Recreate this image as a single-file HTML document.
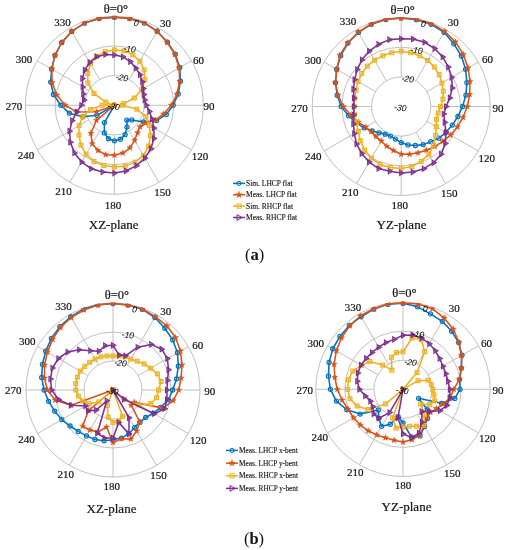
<!DOCTYPE html>
<html><head><meta charset="utf-8"><title>Radiation patterns</title>
<style>html,body{margin:0;padding:0;background:#fff}svg{display:block}text{font-family:"Liberation Serif",serif}text.rl{font-family:"Liberation Sans",sans-serif;font-style:italic}</style>
</head><body>
<svg width="507" height="550" viewBox="0 0 507 550">
<rect width="507" height="550" fill="#fff"/>
<g><clipPath id="cp1"><circle cx="114.4" cy="105.25" r="89.6"/></clipPath>
<circle cx="114.4" cy="105.25" r="29.67" fill="none" stroke="#c0c0c0" stroke-width="1"/>
<circle cx="114.4" cy="105.25" r="59.33" fill="none" stroke="#c0c0c0" stroke-width="1"/>
<circle cx="114.4" cy="105.25" r="89" fill="none" stroke="#c0c0c0" stroke-width="1"/>
<line x1="114.4" y1="75.58" x2="114.4" y2="16.25" stroke="#c0c0c0" stroke-width="1"/>
<line x1="129.23" y1="79.56" x2="158.9" y2="28.17" stroke="#c0c0c0" stroke-width="1"/>
<line x1="140.09" y1="90.42" x2="191.48" y2="60.75" stroke="#c0c0c0" stroke-width="1"/>
<line x1="144.07" y1="105.25" x2="203.4" y2="105.25" stroke="#c0c0c0" stroke-width="1"/>
<line x1="140.09" y1="120.08" x2="191.48" y2="149.75" stroke="#c0c0c0" stroke-width="1"/>
<line x1="129.23" y1="130.94" x2="158.9" y2="182.33" stroke="#c0c0c0" stroke-width="1"/>
<line x1="114.4" y1="134.92" x2="114.4" y2="194.25" stroke="#c0c0c0" stroke-width="1"/>
<line x1="99.57" y1="130.94" x2="69.9" y2="182.33" stroke="#c0c0c0" stroke-width="1"/>
<line x1="88.71" y1="120.08" x2="37.32" y2="149.75" stroke="#c0c0c0" stroke-width="1"/>
<line x1="84.73" y1="105.25" x2="25.4" y2="105.25" stroke="#c0c0c0" stroke-width="1"/>
<line x1="88.71" y1="90.42" x2="37.32" y2="60.75" stroke="#c0c0c0" stroke-width="1"/>
<line x1="99.57" y1="79.56" x2="69.9" y2="28.17" stroke="#c0c0c0" stroke-width="1"/>
<g clip-path="url(#cp1)">
<path d="M114.4 17.25L129.68 18.59L144.33 23.03L157.15 31.2L167.43 42.05L175.3 54.15L179.78 67.5L180.46 81.21L178.22 94L173.2 105.25L166.3 114.4L156.59 120.61L143.41 122L131.87 119.91L126.81 120.03L127 127.07L125.11 134.66L120.39 139.23L114.4 140.85L108.5 138.73L104.34 132.88L104.4 122.57L114.4 105.25L114.4 105.25L96.99 115.3L82.83 116.74L69.39 113.19L60.8 105.25L53.44 94.5L50.69 82.06L51.61 69L54.95 55.37L61.76 42.51L71.75 31.38L84.51 23.12L99.1 18.49Z" fill="none" stroke="#0072BD" stroke-width="1.55" stroke-linejoin="round"/>
<circle cx="114.4" cy="17.25" r="2.1" fill="#0072BD" fill-opacity="0.18" stroke="#0072BD" stroke-width="1.1"/>
<circle cx="129.68" cy="18.59" r="2.1" fill="#0072BD" fill-opacity="0.18" stroke="#0072BD" stroke-width="1.1"/>
<circle cx="144.33" cy="23.03" r="2.1" fill="#0072BD" fill-opacity="0.18" stroke="#0072BD" stroke-width="1.1"/>
<circle cx="157.15" cy="31.2" r="2.1" fill="#0072BD" fill-opacity="0.18" stroke="#0072BD" stroke-width="1.1"/>
<circle cx="167.43" cy="42.05" r="2.1" fill="#0072BD" fill-opacity="0.18" stroke="#0072BD" stroke-width="1.1"/>
<circle cx="175.3" cy="54.15" r="2.1" fill="#0072BD" fill-opacity="0.18" stroke="#0072BD" stroke-width="1.1"/>
<circle cx="179.78" cy="67.5" r="2.1" fill="#0072BD" fill-opacity="0.18" stroke="#0072BD" stroke-width="1.1"/>
<circle cx="180.46" cy="81.21" r="2.1" fill="#0072BD" fill-opacity="0.18" stroke="#0072BD" stroke-width="1.1"/>
<circle cx="178.22" cy="94" r="2.1" fill="#0072BD" fill-opacity="0.18" stroke="#0072BD" stroke-width="1.1"/>
<circle cx="173.2" cy="105.25" r="2.1" fill="#0072BD" fill-opacity="0.18" stroke="#0072BD" stroke-width="1.1"/>
<circle cx="166.3" cy="114.4" r="2.1" fill="#0072BD" fill-opacity="0.18" stroke="#0072BD" stroke-width="1.1"/>
<circle cx="156.59" cy="120.61" r="2.1" fill="#0072BD" fill-opacity="0.18" stroke="#0072BD" stroke-width="1.1"/>
<circle cx="143.41" cy="122" r="2.1" fill="#0072BD" fill-opacity="0.18" stroke="#0072BD" stroke-width="1.1"/>
<circle cx="131.87" cy="119.91" r="2.1" fill="#0072BD" fill-opacity="0.18" stroke="#0072BD" stroke-width="1.1"/>
<circle cx="126.81" cy="120.03" r="2.1" fill="#0072BD" fill-opacity="0.18" stroke="#0072BD" stroke-width="1.1"/>
<circle cx="127" cy="127.07" r="2.1" fill="#0072BD" fill-opacity="0.18" stroke="#0072BD" stroke-width="1.1"/>
<circle cx="125.11" cy="134.66" r="2.1" fill="#0072BD" fill-opacity="0.18" stroke="#0072BD" stroke-width="1.1"/>
<circle cx="120.39" cy="139.23" r="2.1" fill="#0072BD" fill-opacity="0.18" stroke="#0072BD" stroke-width="1.1"/>
<circle cx="114.4" cy="140.85" r="2.1" fill="#0072BD" fill-opacity="0.18" stroke="#0072BD" stroke-width="1.1"/>
<circle cx="108.5" cy="138.73" r="2.1" fill="#0072BD" fill-opacity="0.18" stroke="#0072BD" stroke-width="1.1"/>
<circle cx="104.34" cy="132.88" r="2.1" fill="#0072BD" fill-opacity="0.18" stroke="#0072BD" stroke-width="1.1"/>
<circle cx="104.4" cy="122.57" r="2.1" fill="#0072BD" fill-opacity="0.18" stroke="#0072BD" stroke-width="1.1"/>
<circle cx="114.4" cy="105.25" r="2.1" fill="#0072BD" fill-opacity="0.18" stroke="#0072BD" stroke-width="1.1"/>
<circle cx="114.4" cy="105.25" r="2.1" fill="#0072BD" fill-opacity="0.18" stroke="#0072BD" stroke-width="1.1"/>
<circle cx="96.99" cy="115.3" r="2.1" fill="#0072BD" fill-opacity="0.18" stroke="#0072BD" stroke-width="1.1"/>
<circle cx="82.83" cy="116.74" r="2.1" fill="#0072BD" fill-opacity="0.18" stroke="#0072BD" stroke-width="1.1"/>
<circle cx="69.39" cy="113.19" r="2.1" fill="#0072BD" fill-opacity="0.18" stroke="#0072BD" stroke-width="1.1"/>
<circle cx="60.8" cy="105.25" r="2.1" fill="#0072BD" fill-opacity="0.18" stroke="#0072BD" stroke-width="1.1"/>
<circle cx="53.44" cy="94.5" r="2.1" fill="#0072BD" fill-opacity="0.18" stroke="#0072BD" stroke-width="1.1"/>
<circle cx="50.69" cy="82.06" r="2.1" fill="#0072BD" fill-opacity="0.18" stroke="#0072BD" stroke-width="1.1"/>
<circle cx="51.61" cy="69" r="2.1" fill="#0072BD" fill-opacity="0.18" stroke="#0072BD" stroke-width="1.1"/>
<circle cx="54.95" cy="55.37" r="2.1" fill="#0072BD" fill-opacity="0.18" stroke="#0072BD" stroke-width="1.1"/>
<circle cx="61.76" cy="42.51" r="2.1" fill="#0072BD" fill-opacity="0.18" stroke="#0072BD" stroke-width="1.1"/>
<circle cx="71.75" cy="31.38" r="2.1" fill="#0072BD" fill-opacity="0.18" stroke="#0072BD" stroke-width="1.1"/>
<circle cx="84.51" cy="23.12" r="2.1" fill="#0072BD" fill-opacity="0.18" stroke="#0072BD" stroke-width="1.1"/>
<circle cx="99.1" cy="18.49" r="2.1" fill="#0072BD" fill-opacity="0.18" stroke="#0072BD" stroke-width="1.1"/>
<path d="M114.4 17.25L129.72 18.39L144.46 22.65L157.05 31.38L167.24 42.28L174.92 54.47L179.09 67.9L179.71 81.48L176.94 94.22L171.4 105.25L163.54 113.92L155.28 120.13L145.32 123.1L140.06 126.78L137.54 132.83L134.65 140.32L129.89 147.82L122.82 153.01L114.4 155.25L105.68 154.69L97.95 150.45L92.2 143.7L90.87 133.29L96.47 120.29L114.4 105.25L96.55 111.75L76.48 111.94L65.2 105.25L56.79 95.09L52.1 82.57L51.79 69.1L54.95 55.37L61.76 42.51L71.75 31.38L84.51 23.12L99.1 18.49Z" fill="none" stroke="#D95319" stroke-width="1.55" stroke-linejoin="round"/>
<polygon points="114.4,14.15 115.13,16.24 117.35,16.29 115.59,17.64 116.22,19.76 114.4,18.5 112.58,19.76 113.21,17.64 111.45,16.29 113.67,16.24" fill="#D95319" stroke="#D95319" stroke-width="0.5"/>
<polygon points="129.72,15.29 130.45,17.38 132.66,17.43 130.9,18.78 131.54,20.9 129.72,19.64 127.89,20.9 128.53,18.78 126.77,17.43 128.98,17.38" fill="#D95319" stroke="#D95319" stroke-width="0.5"/>
<polygon points="144.46,19.55 145.2,21.64 147.41,21.69 145.65,23.04 146.29,25.16 144.46,23.9 142.64,25.16 143.27,23.04 141.52,21.69 143.73,21.64" fill="#D95319" stroke="#D95319" stroke-width="0.5"/>
<polygon points="157.05,28.28 157.78,30.37 160,30.42 158.24,31.76 158.87,33.89 157.05,32.63 155.23,33.89 155.86,31.76 154.1,30.42 156.32,30.37" fill="#D95319" stroke="#D95319" stroke-width="0.5"/>
<polygon points="167.24,39.18 167.97,41.27 170.19,41.32 168.43,42.67 169.06,44.79 167.24,43.53 165.42,44.79 166.05,42.67 164.29,41.32 166.5,41.27" fill="#D95319" stroke="#D95319" stroke-width="0.5"/>
<polygon points="174.92,51.37 175.65,53.46 177.87,53.51 176.11,54.86 176.74,56.98 174.92,55.72 173.1,56.98 173.73,54.86 171.97,53.51 174.18,53.46" fill="#D95319" stroke="#D95319" stroke-width="0.5"/>
<polygon points="179.09,64.8 179.83,66.89 182.04,66.94 180.28,68.29 180.91,70.41 179.09,69.15 177.27,70.41 177.9,68.29 176.14,66.94 178.36,66.89" fill="#D95319" stroke="#D95319" stroke-width="0.5"/>
<polygon points="179.71,78.38 180.44,80.47 182.66,80.52 180.9,81.87 181.53,83.99 179.71,82.73 177.89,83.99 178.52,81.87 176.76,80.52 178.97,80.47" fill="#D95319" stroke="#D95319" stroke-width="0.5"/>
<polygon points="176.94,91.12 177.67,93.21 179.88,93.27 178.12,94.61 178.76,96.73 176.94,95.47 175.11,96.73 175.75,94.61 173.99,93.27 176.2,93.21" fill="#D95319" stroke="#D95319" stroke-width="0.5"/>
<polygon points="171.4,102.15 172.13,104.24 174.35,104.29 172.59,105.64 173.22,107.76 171.4,106.5 169.58,107.76 170.21,105.64 168.45,104.29 170.67,104.24" fill="#D95319" stroke="#D95319" stroke-width="0.5"/>
<polygon points="163.54,110.82 164.28,112.9 166.49,112.96 164.73,114.3 165.36,116.42 163.54,115.17 161.72,116.42 162.35,114.3 160.59,112.96 162.81,112.9" fill="#D95319" stroke="#D95319" stroke-width="0.5"/>
<polygon points="155.28,117.03 156.01,119.12 158.22,119.17 156.47,120.51 157.1,122.64 155.28,121.38 153.45,122.64 154.09,120.51 152.33,119.17 154.54,119.12" fill="#D95319" stroke="#D95319" stroke-width="0.5"/>
<polygon points="145.32,120 146.05,122.09 148.27,122.14 146.51,123.49 147.14,125.61 145.32,124.35 143.49,125.61 144.13,123.49 142.37,122.14 144.58,122.09" fill="#D95319" stroke="#D95319" stroke-width="0.5"/>
<polygon points="140.06,123.68 140.8,125.77 143.01,125.83 141.25,127.17 141.88,129.29 140.06,128.03 138.24,129.29 138.87,127.17 137.11,125.83 139.33,125.77" fill="#D95319" stroke="#D95319" stroke-width="0.5"/>
<polygon points="137.54,129.73 138.28,131.82 140.49,131.87 138.73,133.21 139.36,135.34 137.54,134.08 135.72,135.34 136.35,133.21 134.59,131.87 136.81,131.82" fill="#D95319" stroke="#D95319" stroke-width="0.5"/>
<polygon points="134.65,137.22 135.38,139.31 137.6,139.37 135.84,140.71 136.47,142.83 134.65,141.57 132.83,142.83 133.46,140.71 131.7,139.37 133.92,139.31" fill="#D95319" stroke="#D95319" stroke-width="0.5"/>
<polygon points="129.89,144.72 130.63,146.81 132.84,146.86 131.08,148.2 131.72,150.33 129.89,149.07 128.07,150.33 128.7,148.2 126.95,146.86 129.16,146.81" fill="#D95319" stroke="#D95319" stroke-width="0.5"/>
<polygon points="122.82,149.91 123.56,152 125.77,152.06 124.01,153.4 124.64,155.52 122.82,154.26 121,155.52 121.63,153.4 119.87,152.06 122.09,152" fill="#D95319" stroke="#D95319" stroke-width="0.5"/>
<polygon points="114.4,152.15 115.13,154.24 117.35,154.29 115.59,155.64 116.22,157.76 114.4,156.5 112.58,157.76 113.21,155.64 111.45,154.29 113.67,154.24" fill="#D95319" stroke="#D95319" stroke-width="0.5"/>
<polygon points="105.68,151.59 106.42,153.68 108.63,153.73 106.87,155.07 107.5,157.2 105.68,155.94 103.86,157.2 104.49,155.07 102.73,153.73 104.95,153.68" fill="#D95319" stroke="#D95319" stroke-width="0.5"/>
<polygon points="97.95,147.35 98.68,149.44 100.9,149.49 99.14,150.84 99.77,152.96 97.95,151.7 96.13,152.96 96.76,150.84 95,149.49 97.21,149.44" fill="#D95319" stroke="#D95319" stroke-width="0.5"/>
<polygon points="92.2,140.6 92.93,142.69 95.15,142.74 93.39,144.09 94.02,146.21 92.2,144.95 90.38,146.21 91.01,144.09 89.25,142.74 91.47,142.69" fill="#D95319" stroke="#D95319" stroke-width="0.5"/>
<polygon points="90.87,130.19 91.61,132.28 93.82,132.33 92.06,133.67 92.7,135.8 90.87,134.54 89.05,135.8 89.69,133.67 87.93,132.33 90.14,132.28" fill="#D95319" stroke="#D95319" stroke-width="0.5"/>
<polygon points="96.47,117.19 97.21,119.28 99.42,119.33 97.66,120.68 98.3,122.8 96.47,121.54 94.65,122.8 95.29,120.68 93.53,119.33 95.74,119.28" fill="#D95319" stroke="#D95319" stroke-width="0.5"/>
<polygon points="114.4,102.15 115.13,104.24 117.35,104.29 115.59,105.64 116.22,107.76 114.4,106.5 112.58,107.76 113.21,105.64 111.45,104.29 113.67,104.24" fill="#D95319" stroke="#D95319" stroke-width="0.5"/>
<polygon points="96.55,108.65 97.28,110.74 99.49,110.79 97.73,112.13 98.37,114.26 96.55,113 94.72,114.26 95.36,112.13 93.6,110.79 95.81,110.74" fill="#D95319" stroke="#D95319" stroke-width="0.5"/>
<polygon points="76.48,108.84 77.22,110.92 79.43,110.98 77.67,112.32 78.31,114.44 76.48,113.19 74.66,114.44 75.3,112.32 73.54,110.98 75.75,110.92" fill="#D95319" stroke="#D95319" stroke-width="0.5"/>
<polygon points="65.2,102.15 65.93,104.24 68.15,104.29 66.39,105.64 67.02,107.76 65.2,106.5 63.38,107.76 64.01,105.64 62.25,104.29 64.47,104.24" fill="#D95319" stroke="#D95319" stroke-width="0.5"/>
<polygon points="56.79,91.99 57.52,94.08 59.74,94.13 57.98,95.48 58.61,97.6 56.79,96.34 54.97,97.6 55.6,95.48 53.84,94.13 56.05,94.08" fill="#D95319" stroke="#D95319" stroke-width="0.5"/>
<polygon points="52.1,79.47 52.83,81.56 55.05,81.62 53.29,82.96 53.92,85.08 52.1,83.82 50.28,85.08 50.91,82.96 49.15,81.62 51.36,81.56" fill="#D95319" stroke="#D95319" stroke-width="0.5"/>
<polygon points="51.79,66 52.52,68.09 54.73,68.14 52.98,69.49 53.61,71.61 51.79,70.35 49.96,71.61 50.6,69.49 48.84,68.14 51.05,68.09" fill="#D95319" stroke="#D95319" stroke-width="0.5"/>
<polygon points="54.95,52.27 55.69,54.36 57.9,54.41 56.14,55.76 56.78,57.88 54.95,56.62 53.13,57.88 53.77,55.76 52.01,54.41 54.22,54.36" fill="#D95319" stroke="#D95319" stroke-width="0.5"/>
<polygon points="61.76,39.41 62.49,41.5 64.7,41.55 62.94,42.9 63.58,45.02 61.76,43.76 59.93,45.02 60.57,42.9 58.81,41.55 61.02,41.5" fill="#D95319" stroke="#D95319" stroke-width="0.5"/>
<polygon points="71.75,28.28 72.48,30.37 74.7,30.42 72.94,31.76 73.57,33.89 71.75,32.63 69.93,33.89 70.56,31.76 68.8,30.42 71.02,30.37" fill="#D95319" stroke="#D95319" stroke-width="0.5"/>
<polygon points="84.51,20.02 85.24,22.11 87.46,22.16 85.7,23.51 86.33,25.63 84.51,24.37 82.69,25.63 83.32,23.51 81.56,22.16 83.77,22.11" fill="#D95319" stroke="#D95319" stroke-width="0.5"/>
<polygon points="99.1,15.39 99.84,17.48 102.05,17.53 100.29,18.87 100.92,21 99.1,19.74 97.28,21 97.91,18.87 96.15,17.53 98.37,17.48" fill="#D95319" stroke="#D95319" stroke-width="0.5"/>
<path d="M114.4 49.95L123.99 50.89L132.73 54.88L139.85 61.17L144.1 69.86L144.89 79.67L142.11 89.25L134.32 98L123.66 103.62L122.4 105.25L136.76 109.19L145.79 116.67L149.39 125.45L150.48 135.53L148.66 146.08L143.4 155.48L135.09 162.1L125.13 166.11L114.4 167.05L103.77 165.52L93.95 161.44L86.1 154.27L80.91 145.16L79.01 134.95L79.07 125.65L82.73 116.78L90.37 109.49L102.1 105.25L114.4 105.25L105.85 102.14L94.05 93.5L87.82 82.95L87.72 73.46L90.4 63.68L96.61 56.39L104.95 51.68Z" fill="none" stroke="#EDB120" stroke-width="1.55" stroke-linejoin="round"/>
<rect x="112.45" y="48" width="3.9" height="3.9" fill="#EDB120" fill-opacity="0.3" stroke="#EDB120" stroke-width="1.1"/>
<rect x="122.04" y="48.94" width="3.9" height="3.9" fill="#EDB120" fill-opacity="0.3" stroke="#EDB120" stroke-width="1.1"/>
<rect x="130.78" y="52.93" width="3.9" height="3.9" fill="#EDB120" fill-opacity="0.3" stroke="#EDB120" stroke-width="1.1"/>
<rect x="137.9" y="59.22" width="3.9" height="3.9" fill="#EDB120" fill-opacity="0.3" stroke="#EDB120" stroke-width="1.1"/>
<rect x="142.15" y="67.91" width="3.9" height="3.9" fill="#EDB120" fill-opacity="0.3" stroke="#EDB120" stroke-width="1.1"/>
<rect x="142.94" y="77.72" width="3.9" height="3.9" fill="#EDB120" fill-opacity="0.3" stroke="#EDB120" stroke-width="1.1"/>
<rect x="140.16" y="87.3" width="3.9" height="3.9" fill="#EDB120" fill-opacity="0.3" stroke="#EDB120" stroke-width="1.1"/>
<rect x="132.37" y="96.05" width="3.9" height="3.9" fill="#EDB120" fill-opacity="0.3" stroke="#EDB120" stroke-width="1.1"/>
<rect x="121.71" y="101.67" width="3.9" height="3.9" fill="#EDB120" fill-opacity="0.3" stroke="#EDB120" stroke-width="1.1"/>
<rect x="120.45" y="103.3" width="3.9" height="3.9" fill="#EDB120" fill-opacity="0.3" stroke="#EDB120" stroke-width="1.1"/>
<rect x="134.81" y="107.24" width="3.9" height="3.9" fill="#EDB120" fill-opacity="0.3" stroke="#EDB120" stroke-width="1.1"/>
<rect x="143.84" y="114.72" width="3.9" height="3.9" fill="#EDB120" fill-opacity="0.3" stroke="#EDB120" stroke-width="1.1"/>
<rect x="147.44" y="123.5" width="3.9" height="3.9" fill="#EDB120" fill-opacity="0.3" stroke="#EDB120" stroke-width="1.1"/>
<rect x="148.53" y="133.58" width="3.9" height="3.9" fill="#EDB120" fill-opacity="0.3" stroke="#EDB120" stroke-width="1.1"/>
<rect x="146.71" y="144.13" width="3.9" height="3.9" fill="#EDB120" fill-opacity="0.3" stroke="#EDB120" stroke-width="1.1"/>
<rect x="141.45" y="153.53" width="3.9" height="3.9" fill="#EDB120" fill-opacity="0.3" stroke="#EDB120" stroke-width="1.1"/>
<rect x="133.14" y="160.15" width="3.9" height="3.9" fill="#EDB120" fill-opacity="0.3" stroke="#EDB120" stroke-width="1.1"/>
<rect x="123.18" y="164.16" width="3.9" height="3.9" fill="#EDB120" fill-opacity="0.3" stroke="#EDB120" stroke-width="1.1"/>
<rect x="112.45" y="165.1" width="3.9" height="3.9" fill="#EDB120" fill-opacity="0.3" stroke="#EDB120" stroke-width="1.1"/>
<rect x="101.82" y="163.57" width="3.9" height="3.9" fill="#EDB120" fill-opacity="0.3" stroke="#EDB120" stroke-width="1.1"/>
<rect x="92" y="159.49" width="3.9" height="3.9" fill="#EDB120" fill-opacity="0.3" stroke="#EDB120" stroke-width="1.1"/>
<rect x="84.15" y="152.32" width="3.9" height="3.9" fill="#EDB120" fill-opacity="0.3" stroke="#EDB120" stroke-width="1.1"/>
<rect x="78.96" y="143.21" width="3.9" height="3.9" fill="#EDB120" fill-opacity="0.3" stroke="#EDB120" stroke-width="1.1"/>
<rect x="77.06" y="133" width="3.9" height="3.9" fill="#EDB120" fill-opacity="0.3" stroke="#EDB120" stroke-width="1.1"/>
<rect x="77.12" y="123.7" width="3.9" height="3.9" fill="#EDB120" fill-opacity="0.3" stroke="#EDB120" stroke-width="1.1"/>
<rect x="80.78" y="114.83" width="3.9" height="3.9" fill="#EDB120" fill-opacity="0.3" stroke="#EDB120" stroke-width="1.1"/>
<rect x="88.42" y="107.54" width="3.9" height="3.9" fill="#EDB120" fill-opacity="0.3" stroke="#EDB120" stroke-width="1.1"/>
<rect x="100.15" y="103.3" width="3.9" height="3.9" fill="#EDB120" fill-opacity="0.3" stroke="#EDB120" stroke-width="1.1"/>
<rect x="112.45" y="103.3" width="3.9" height="3.9" fill="#EDB120" fill-opacity="0.3" stroke="#EDB120" stroke-width="1.1"/>
<rect x="103.9" y="100.19" width="3.9" height="3.9" fill="#EDB120" fill-opacity="0.3" stroke="#EDB120" stroke-width="1.1"/>
<rect x="92.1" y="91.55" width="3.9" height="3.9" fill="#EDB120" fill-opacity="0.3" stroke="#EDB120" stroke-width="1.1"/>
<rect x="85.87" y="81" width="3.9" height="3.9" fill="#EDB120" fill-opacity="0.3" stroke="#EDB120" stroke-width="1.1"/>
<rect x="85.77" y="71.51" width="3.9" height="3.9" fill="#EDB120" fill-opacity="0.3" stroke="#EDB120" stroke-width="1.1"/>
<rect x="88.45" y="61.73" width="3.9" height="3.9" fill="#EDB120" fill-opacity="0.3" stroke="#EDB120" stroke-width="1.1"/>
<rect x="94.66" y="54.44" width="3.9" height="3.9" fill="#EDB120" fill-opacity="0.3" stroke="#EDB120" stroke-width="1.1"/>
<rect x="103" y="49.73" width="3.9" height="3.9" fill="#EDB120" fill-opacity="0.3" stroke="#EDB120" stroke-width="1.1"/>
<path d="M114.4 54.95L122.94 56.8L130.3 61.55L135.8 68.18L140.05 74.68L142.28 81.85L143.33 88.55L143.81 94.54L144.73 99.9L146.4 105.25L149.36 111.41L152.18 119L153.89 128.05L154 138.48L150.85 148.68L144.95 158.16L136.39 165.67L125.98 170.94L114.4 173.05L102.63 172.02L91.28 168.77L81.65 161.97L74.42 152.9L70.35 142.21L69.54 131.15L72.21 120.61L76.78 111.88L81.4 105.25L84.07 99.9L83.3 93.93L82.7 86.95L82.38 78.38L84.83 70.01L89.65 62.38L96.72 56.67L105.46 54.53Z" fill="none" stroke="#7E2F8E" stroke-width="1.55" stroke-linejoin="round"/>
<path d="M112.9 52.35L117.1 54.95L112.9 57.55Z" fill="#7E2F8E" fill-opacity="0.4" stroke="#7E2F8E" stroke-width="1.1" stroke-linejoin="miter"/>
<path d="M121.44 54.2L125.64 56.8L121.44 59.4Z" fill="#7E2F8E" fill-opacity="0.4" stroke="#7E2F8E" stroke-width="1.1" stroke-linejoin="miter"/>
<path d="M128.8 58.95L133 61.55L128.8 64.15Z" fill="#7E2F8E" fill-opacity="0.4" stroke="#7E2F8E" stroke-width="1.1" stroke-linejoin="miter"/>
<path d="M134.3 65.58L138.5 68.18L134.3 70.78Z" fill="#7E2F8E" fill-opacity="0.4" stroke="#7E2F8E" stroke-width="1.1" stroke-linejoin="miter"/>
<path d="M138.55 72.08L142.75 74.68L138.55 77.28Z" fill="#7E2F8E" fill-opacity="0.4" stroke="#7E2F8E" stroke-width="1.1" stroke-linejoin="miter"/>
<path d="M140.78 79.25L144.98 81.85L140.78 84.45Z" fill="#7E2F8E" fill-opacity="0.4" stroke="#7E2F8E" stroke-width="1.1" stroke-linejoin="miter"/>
<path d="M141.83 85.95L146.03 88.55L141.83 91.15Z" fill="#7E2F8E" fill-opacity="0.4" stroke="#7E2F8E" stroke-width="1.1" stroke-linejoin="miter"/>
<path d="M142.31 91.94L146.51 94.54L142.31 97.14Z" fill="#7E2F8E" fill-opacity="0.4" stroke="#7E2F8E" stroke-width="1.1" stroke-linejoin="miter"/>
<path d="M143.23 97.3L147.43 99.9L143.23 102.5Z" fill="#7E2F8E" fill-opacity="0.4" stroke="#7E2F8E" stroke-width="1.1" stroke-linejoin="miter"/>
<path d="M144.9 102.65L149.1 105.25L144.9 107.85Z" fill="#7E2F8E" fill-opacity="0.4" stroke="#7E2F8E" stroke-width="1.1" stroke-linejoin="miter"/>
<path d="M147.86 108.81L152.06 111.41L147.86 114.01Z" fill="#7E2F8E" fill-opacity="0.4" stroke="#7E2F8E" stroke-width="1.1" stroke-linejoin="miter"/>
<path d="M150.68 116.4L154.88 119L150.68 121.6Z" fill="#7E2F8E" fill-opacity="0.4" stroke="#7E2F8E" stroke-width="1.1" stroke-linejoin="miter"/>
<path d="M152.39 125.45L156.59 128.05L152.39 130.65Z" fill="#7E2F8E" fill-opacity="0.4" stroke="#7E2F8E" stroke-width="1.1" stroke-linejoin="miter"/>
<path d="M152.5 135.88L156.7 138.48L152.5 141.08Z" fill="#7E2F8E" fill-opacity="0.4" stroke="#7E2F8E" stroke-width="1.1" stroke-linejoin="miter"/>
<path d="M149.35 146.08L153.55 148.68L149.35 151.28Z" fill="#7E2F8E" fill-opacity="0.4" stroke="#7E2F8E" stroke-width="1.1" stroke-linejoin="miter"/>
<path d="M143.45 155.56L147.65 158.16L143.45 160.76Z" fill="#7E2F8E" fill-opacity="0.4" stroke="#7E2F8E" stroke-width="1.1" stroke-linejoin="miter"/>
<path d="M134.89 163.07L139.09 165.67L134.89 168.27Z" fill="#7E2F8E" fill-opacity="0.4" stroke="#7E2F8E" stroke-width="1.1" stroke-linejoin="miter"/>
<path d="M124.48 168.34L128.68 170.94L124.48 173.54Z" fill="#7E2F8E" fill-opacity="0.4" stroke="#7E2F8E" stroke-width="1.1" stroke-linejoin="miter"/>
<path d="M112.9 170.45L117.1 173.05L112.9 175.65Z" fill="#7E2F8E" fill-opacity="0.4" stroke="#7E2F8E" stroke-width="1.1" stroke-linejoin="miter"/>
<path d="M101.13 169.42L105.33 172.02L101.13 174.62Z" fill="#7E2F8E" fill-opacity="0.4" stroke="#7E2F8E" stroke-width="1.1" stroke-linejoin="miter"/>
<path d="M89.78 166.17L93.98 168.77L89.78 171.37Z" fill="#7E2F8E" fill-opacity="0.4" stroke="#7E2F8E" stroke-width="1.1" stroke-linejoin="miter"/>
<path d="M80.15 159.37L84.35 161.97L80.15 164.57Z" fill="#7E2F8E" fill-opacity="0.4" stroke="#7E2F8E" stroke-width="1.1" stroke-linejoin="miter"/>
<path d="M72.92 150.3L77.12 152.9L72.92 155.5Z" fill="#7E2F8E" fill-opacity="0.4" stroke="#7E2F8E" stroke-width="1.1" stroke-linejoin="miter"/>
<path d="M68.85 139.61L73.05 142.21L68.85 144.81Z" fill="#7E2F8E" fill-opacity="0.4" stroke="#7E2F8E" stroke-width="1.1" stroke-linejoin="miter"/>
<path d="M68.04 128.55L72.24 131.15L68.04 133.75Z" fill="#7E2F8E" fill-opacity="0.4" stroke="#7E2F8E" stroke-width="1.1" stroke-linejoin="miter"/>
<path d="M70.71 118.01L74.91 120.61L70.71 123.21Z" fill="#7E2F8E" fill-opacity="0.4" stroke="#7E2F8E" stroke-width="1.1" stroke-linejoin="miter"/>
<path d="M75.28 109.28L79.48 111.88L75.28 114.48Z" fill="#7E2F8E" fill-opacity="0.4" stroke="#7E2F8E" stroke-width="1.1" stroke-linejoin="miter"/>
<path d="M79.9 102.65L84.1 105.25L79.9 107.85Z" fill="#7E2F8E" fill-opacity="0.4" stroke="#7E2F8E" stroke-width="1.1" stroke-linejoin="miter"/>
<path d="M82.57 97.3L86.77 99.9L82.57 102.5Z" fill="#7E2F8E" fill-opacity="0.4" stroke="#7E2F8E" stroke-width="1.1" stroke-linejoin="miter"/>
<path d="M81.8 91.33L86 93.93L81.8 96.53Z" fill="#7E2F8E" fill-opacity="0.4" stroke="#7E2F8E" stroke-width="1.1" stroke-linejoin="miter"/>
<path d="M81.2 84.35L85.4 86.95L81.2 89.55Z" fill="#7E2F8E" fill-opacity="0.4" stroke="#7E2F8E" stroke-width="1.1" stroke-linejoin="miter"/>
<path d="M80.88 75.78L85.08 78.38L80.88 80.98Z" fill="#7E2F8E" fill-opacity="0.4" stroke="#7E2F8E" stroke-width="1.1" stroke-linejoin="miter"/>
<path d="M83.33 67.41L87.53 70.01L83.33 72.61Z" fill="#7E2F8E" fill-opacity="0.4" stroke="#7E2F8E" stroke-width="1.1" stroke-linejoin="miter"/>
<path d="M88.15 59.78L92.35 62.38L88.15 64.98Z" fill="#7E2F8E" fill-opacity="0.4" stroke="#7E2F8E" stroke-width="1.1" stroke-linejoin="miter"/>
<path d="M95.22 54.07L99.42 56.67L95.22 59.27Z" fill="#7E2F8E" fill-opacity="0.4" stroke="#7E2F8E" stroke-width="1.1" stroke-linejoin="miter"/>
<path d="M103.96 51.93L108.16 54.53L103.96 57.13Z" fill="#7E2F8E" fill-opacity="0.4" stroke="#7E2F8E" stroke-width="1.1" stroke-linejoin="miter"/>
</g></g>
<g fill="#111" stroke="#111" stroke-width="0.2"><text x="115.9" y="12.75" font-size="12.5" text-anchor="middle" >θ=0°</text>
<text x="165.4" y="27.35" font-size="11" text-anchor="middle" >30</text>
<text x="198.4" y="63.85" font-size="11" text-anchor="middle" >60</text>
<text x="209" y="110.35" font-size="11" text-anchor="middle" >90</text>
<text x="200" y="160.25" font-size="11" text-anchor="middle" >120</text>
<text x="162.4" y="196.25" font-size="11" text-anchor="middle" >150</text>
<text x="113" y="208.75" font-size="11" text-anchor="middle" >180</text>
<text x="63.4" y="194.75" font-size="11" text-anchor="middle" >210</text>
<text x="25.9" y="158.75" font-size="11" text-anchor="middle" >240</text>
<text x="14" y="110.35" font-size="11" text-anchor="middle" >270</text>
<text x="24" y="62.85" font-size="11" text-anchor="middle" >300</text>
<text x="62.4" y="26.35" font-size="11" text-anchor="middle" >330</text>
<text x="136.4" y="25.85" font-size="8.6" text-anchor="middle" class="rl" fill="#000" stroke="none" transform="rotate(8 136.4 22.95)">0</text>
<text x="129.6" y="51.95" font-size="8.6" text-anchor="middle" class="rl" fill="#000" stroke="none" transform="rotate(8 129.6 49.05)">-10</text>
<text x="122" y="80.55" font-size="8.6" text-anchor="middle" class="rl" fill="#000" stroke="none" transform="rotate(8 122 77.65)">-20</text>
<text x="113.5" y="109.45" font-size="8.6" text-anchor="middle" class="rl" fill="#000" stroke="none" transform="rotate(8 113.5 106.55)">-30</text></g>
<g><clipPath id="cp2"><circle cx="401.2" cy="106.5" r="89.6"/></clipPath>
<circle cx="401.2" cy="106.5" r="29.67" fill="none" stroke="#c0c0c0" stroke-width="1"/>
<circle cx="401.2" cy="106.5" r="59.33" fill="none" stroke="#c0c0c0" stroke-width="1"/>
<circle cx="401.2" cy="106.5" r="89" fill="none" stroke="#c0c0c0" stroke-width="1"/>
<line x1="401.2" y1="76.83" x2="401.2" y2="17.5" stroke="#c0c0c0" stroke-width="1"/>
<line x1="416.03" y1="80.81" x2="445.7" y2="29.42" stroke="#c0c0c0" stroke-width="1"/>
<line x1="426.89" y1="91.67" x2="478.28" y2="62" stroke="#c0c0c0" stroke-width="1"/>
<line x1="430.87" y1="106.5" x2="490.2" y2="106.5" stroke="#c0c0c0" stroke-width="1"/>
<line x1="426.89" y1="121.33" x2="478.28" y2="151" stroke="#c0c0c0" stroke-width="1"/>
<line x1="416.03" y1="132.19" x2="445.7" y2="183.58" stroke="#c0c0c0" stroke-width="1"/>
<line x1="401.2" y1="136.17" x2="401.2" y2="195.5" stroke="#c0c0c0" stroke-width="1"/>
<line x1="386.37" y1="132.19" x2="356.7" y2="183.58" stroke="#c0c0c0" stroke-width="1"/>
<line x1="375.51" y1="121.33" x2="324.12" y2="151" stroke="#c0c0c0" stroke-width="1"/>
<line x1="371.53" y1="106.5" x2="312.2" y2="106.5" stroke="#c0c0c0" stroke-width="1"/>
<line x1="375.51" y1="91.67" x2="324.12" y2="62" stroke="#c0c0c0" stroke-width="1"/>
<line x1="386.37" y1="80.81" x2="356.7" y2="29.42" stroke="#c0c0c0" stroke-width="1"/>
<g clip-path="url(#cp2)">
<path d="M401.2 18.1L416.52 19.64L431.13 24.28L444.05 32.28L453.78 43.84L461.41 55.98L465.55 69.35L466.88 82.59L465.9 95.09L462.6 106.5L457.92 116.5L452.32 125.11L445.97 132.35L438.89 138.13L430.7 141.66L423.2 144.61L415.39 145.5L407.97 144.91L401.2 142.6L395.45 139.1L390.43 136.1L385.2 134.21L379.15 132.78L372.09 130.93L364.22 127.85L356.09 122.92L348.61 115.77L341.2 106.5L337.19 95.21L335.42 82.56L336.68 69.25L340.68 55.72L347.98 43.07L358.45 32.45L371.27 24.28L385.87 19.54Z" fill="none" stroke="#0072BD" stroke-width="1.55" stroke-linejoin="round"/>
<circle cx="401.2" cy="18.1" r="2.1" fill="#0072BD" fill-opacity="0.18" stroke="#0072BD" stroke-width="1.1"/>
<circle cx="416.52" cy="19.64" r="2.1" fill="#0072BD" fill-opacity="0.18" stroke="#0072BD" stroke-width="1.1"/>
<circle cx="431.13" cy="24.28" r="2.1" fill="#0072BD" fill-opacity="0.18" stroke="#0072BD" stroke-width="1.1"/>
<circle cx="444.05" cy="32.28" r="2.1" fill="#0072BD" fill-opacity="0.18" stroke="#0072BD" stroke-width="1.1"/>
<circle cx="453.78" cy="43.84" r="2.1" fill="#0072BD" fill-opacity="0.18" stroke="#0072BD" stroke-width="1.1"/>
<circle cx="461.41" cy="55.98" r="2.1" fill="#0072BD" fill-opacity="0.18" stroke="#0072BD" stroke-width="1.1"/>
<circle cx="465.55" cy="69.35" r="2.1" fill="#0072BD" fill-opacity="0.18" stroke="#0072BD" stroke-width="1.1"/>
<circle cx="466.88" cy="82.59" r="2.1" fill="#0072BD" fill-opacity="0.18" stroke="#0072BD" stroke-width="1.1"/>
<circle cx="465.9" cy="95.09" r="2.1" fill="#0072BD" fill-opacity="0.18" stroke="#0072BD" stroke-width="1.1"/>
<circle cx="462.6" cy="106.5" r="2.1" fill="#0072BD" fill-opacity="0.18" stroke="#0072BD" stroke-width="1.1"/>
<circle cx="457.92" cy="116.5" r="2.1" fill="#0072BD" fill-opacity="0.18" stroke="#0072BD" stroke-width="1.1"/>
<circle cx="452.32" cy="125.11" r="2.1" fill="#0072BD" fill-opacity="0.18" stroke="#0072BD" stroke-width="1.1"/>
<circle cx="445.97" cy="132.35" r="2.1" fill="#0072BD" fill-opacity="0.18" stroke="#0072BD" stroke-width="1.1"/>
<circle cx="438.89" cy="138.13" r="2.1" fill="#0072BD" fill-opacity="0.18" stroke="#0072BD" stroke-width="1.1"/>
<circle cx="430.7" cy="141.66" r="2.1" fill="#0072BD" fill-opacity="0.18" stroke="#0072BD" stroke-width="1.1"/>
<circle cx="423.2" cy="144.61" r="2.1" fill="#0072BD" fill-opacity="0.18" stroke="#0072BD" stroke-width="1.1"/>
<circle cx="415.39" cy="145.5" r="2.1" fill="#0072BD" fill-opacity="0.18" stroke="#0072BD" stroke-width="1.1"/>
<circle cx="407.97" cy="144.91" r="2.1" fill="#0072BD" fill-opacity="0.18" stroke="#0072BD" stroke-width="1.1"/>
<circle cx="401.2" cy="142.6" r="2.1" fill="#0072BD" fill-opacity="0.18" stroke="#0072BD" stroke-width="1.1"/>
<circle cx="395.45" cy="139.1" r="2.1" fill="#0072BD" fill-opacity="0.18" stroke="#0072BD" stroke-width="1.1"/>
<circle cx="390.43" cy="136.1" r="2.1" fill="#0072BD" fill-opacity="0.18" stroke="#0072BD" stroke-width="1.1"/>
<circle cx="385.2" cy="134.21" r="2.1" fill="#0072BD" fill-opacity="0.18" stroke="#0072BD" stroke-width="1.1"/>
<circle cx="379.15" cy="132.78" r="2.1" fill="#0072BD" fill-opacity="0.18" stroke="#0072BD" stroke-width="1.1"/>
<circle cx="372.09" cy="130.93" r="2.1" fill="#0072BD" fill-opacity="0.18" stroke="#0072BD" stroke-width="1.1"/>
<circle cx="364.22" cy="127.85" r="2.1" fill="#0072BD" fill-opacity="0.18" stroke="#0072BD" stroke-width="1.1"/>
<circle cx="356.09" cy="122.92" r="2.1" fill="#0072BD" fill-opacity="0.18" stroke="#0072BD" stroke-width="1.1"/>
<circle cx="348.61" cy="115.77" r="2.1" fill="#0072BD" fill-opacity="0.18" stroke="#0072BD" stroke-width="1.1"/>
<circle cx="341.2" cy="106.5" r="2.1" fill="#0072BD" fill-opacity="0.18" stroke="#0072BD" stroke-width="1.1"/>
<circle cx="337.19" cy="95.21" r="2.1" fill="#0072BD" fill-opacity="0.18" stroke="#0072BD" stroke-width="1.1"/>
<circle cx="335.42" cy="82.56" r="2.1" fill="#0072BD" fill-opacity="0.18" stroke="#0072BD" stroke-width="1.1"/>
<circle cx="336.68" cy="69.25" r="2.1" fill="#0072BD" fill-opacity="0.18" stroke="#0072BD" stroke-width="1.1"/>
<circle cx="340.68" cy="55.72" r="2.1" fill="#0072BD" fill-opacity="0.18" stroke="#0072BD" stroke-width="1.1"/>
<circle cx="347.98" cy="43.07" r="2.1" fill="#0072BD" fill-opacity="0.18" stroke="#0072BD" stroke-width="1.1"/>
<circle cx="358.45" cy="32.45" r="2.1" fill="#0072BD" fill-opacity="0.18" stroke="#0072BD" stroke-width="1.1"/>
<circle cx="371.27" cy="24.28" r="2.1" fill="#0072BD" fill-opacity="0.18" stroke="#0072BD" stroke-width="1.1"/>
<circle cx="385.87" cy="19.54" r="2.1" fill="#0072BD" fill-opacity="0.18" stroke="#0072BD" stroke-width="1.1"/>
<path d="M401.2 17.9L416.57 19.34L431.43 23.43L444.55 31.42L455.45 41.85L463.33 54.37L468.06 67.9L469.99 81.46L469.64 94.43L467.3 106.5L463.05 117.41L457.39 126.95L450.56 135L442.72 141.34L434.82 146.56L426.5 150.32L418.06 152.83L409.62 154.26L401.2 154.2L393.44 150.52L386.73 146.25L381.25 141.05L375.94 136.61L371.25 131.63L365.69 127L358.35 122.1L350.88 115.37L343.4 106.5L338.07 95.37L335.42 82.56L336.77 69.3L339.92 55.08L347.66 42.69L358.3 32.2L371.17 23.99L385.83 19.34Z" fill="none" stroke="#D95319" stroke-width="1.55" stroke-linejoin="round"/>
<polygon points="401.2,14.8 401.93,16.89 404.15,16.94 402.39,18.29 403.02,20.41 401.2,19.15 399.38,20.41 400.01,18.29 398.25,16.94 400.47,16.89" fill="#D95319" stroke="#D95319" stroke-width="0.5"/>
<polygon points="416.57,16.24 417.3,18.33 419.52,18.39 417.76,19.73 418.39,21.85 416.57,20.59 414.75,21.85 415.38,19.73 413.62,18.39 415.83,18.33" fill="#D95319" stroke="#D95319" stroke-width="0.5"/>
<polygon points="431.43,20.33 432.17,22.42 434.38,22.47 432.62,23.82 433.26,25.94 431.43,24.68 429.61,25.94 430.25,23.82 428.49,22.47 430.7,22.42" fill="#D95319" stroke="#D95319" stroke-width="0.5"/>
<polygon points="444.55,28.32 445.28,30.4 447.5,30.46 445.74,31.8 446.37,33.92 444.55,32.67 442.73,33.92 443.36,31.8 441.6,30.46 443.82,30.4" fill="#D95319" stroke="#D95319" stroke-width="0.5"/>
<polygon points="455.45,38.75 456.19,40.83 458.4,40.89 456.64,42.23 457.27,44.35 455.45,43.1 453.63,44.35 454.26,42.23 452.5,40.89 454.72,40.83" fill="#D95319" stroke="#D95319" stroke-width="0.5"/>
<polygon points="463.33,51.27 464.06,53.36 466.27,53.41 464.52,54.76 465.15,56.88 463.33,55.62 461.5,56.88 462.14,54.76 460.38,53.41 462.59,53.36" fill="#D95319" stroke="#D95319" stroke-width="0.5"/>
<polygon points="468.06,64.8 468.79,66.89 471.01,66.94 469.25,68.29 469.88,70.41 468.06,69.15 466.24,70.41 466.87,68.29 465.11,66.94 467.32,66.89" fill="#D95319" stroke="#D95319" stroke-width="0.5"/>
<polygon points="469.99,78.36 470.72,80.45 472.93,80.51 471.17,81.85 471.81,83.97 469.99,82.71 468.16,83.97 468.8,81.85 467.04,80.51 469.25,80.45" fill="#D95319" stroke="#D95319" stroke-width="0.5"/>
<polygon points="469.64,91.33 470.38,93.42 472.59,93.47 470.83,94.82 471.47,96.94 469.64,95.68 467.82,96.94 468.46,94.82 466.7,93.47 468.91,93.42" fill="#D95319" stroke="#D95319" stroke-width="0.5"/>
<polygon points="467.3,103.4 468.03,105.49 470.25,105.54 468.49,106.89 469.12,109.01 467.3,107.75 465.48,109.01 466.11,106.89 464.35,105.54 466.57,105.49" fill="#D95319" stroke="#D95319" stroke-width="0.5"/>
<polygon points="463.05,114.31 463.78,116.39 465.99,116.45 464.23,117.79 464.87,119.91 463.05,118.66 461.22,119.91 461.86,117.79 460.1,116.45 462.31,116.39" fill="#D95319" stroke="#D95319" stroke-width="0.5"/>
<polygon points="457.39,123.85 458.13,125.94 460.34,125.99 458.58,127.34 459.22,129.46 457.39,128.2 455.57,129.46 456.2,127.34 454.45,125.99 456.66,125.94" fill="#D95319" stroke="#D95319" stroke-width="0.5"/>
<polygon points="450.56,131.9 451.3,133.99 453.51,134.04 451.75,135.39 452.39,137.51 450.56,136.25 448.74,137.51 449.37,135.39 447.62,134.04 449.83,133.99" fill="#D95319" stroke="#D95319" stroke-width="0.5"/>
<polygon points="442.72,138.24 443.45,140.33 445.67,140.38 443.91,141.73 444.54,143.85 442.72,142.59 440.9,143.85 441.53,141.73 439.77,140.38 441.98,140.33" fill="#D95319" stroke="#D95319" stroke-width="0.5"/>
<polygon points="434.82,143.46 435.55,145.55 437.77,145.61 436.01,146.95 436.64,149.07 434.82,147.81 433,149.07 433.63,146.95 431.87,145.61 434.08,145.55" fill="#D95319" stroke="#D95319" stroke-width="0.5"/>
<polygon points="426.5,147.22 427.23,149.31 429.45,149.36 427.69,150.71 428.32,152.83 426.5,151.57 424.68,152.83 425.31,150.71 423.55,149.36 425.77,149.31" fill="#D95319" stroke="#D95319" stroke-width="0.5"/>
<polygon points="418.06,149.73 418.8,151.82 421.01,151.87 419.25,153.21 419.88,155.33 418.06,154.08 416.24,155.33 416.87,153.21 415.11,151.87 417.33,151.82" fill="#D95319" stroke="#D95319" stroke-width="0.5"/>
<polygon points="409.62,151.16 410.36,153.25 412.57,153.31 410.81,154.65 411.44,156.77 409.62,155.51 407.8,156.77 408.43,154.65 406.67,153.31 408.89,153.25" fill="#D95319" stroke="#D95319" stroke-width="0.5"/>
<polygon points="401.2,151.1 401.93,153.19 404.15,153.24 402.39,154.59 403.02,156.71 401.2,155.45 399.38,156.71 400.01,154.59 398.25,153.24 400.47,153.19" fill="#D95319" stroke="#D95319" stroke-width="0.5"/>
<polygon points="393.44,147.42 394.17,149.51 396.39,149.56 394.63,150.91 395.26,153.03 393.44,151.77 391.62,153.03 392.25,150.91 390.49,149.56 392.7,149.51" fill="#D95319" stroke="#D95319" stroke-width="0.5"/>
<polygon points="386.73,143.15 387.47,145.24 389.68,145.29 387.92,146.64 388.55,148.76 386.73,147.5 384.91,148.76 385.54,146.64 383.78,145.29 386,145.24" fill="#D95319" stroke="#D95319" stroke-width="0.5"/>
<polygon points="381.25,137.95 381.98,140.04 384.2,140.1 382.44,141.44 383.07,143.56 381.25,142.3 379.43,143.56 380.06,141.44 378.3,140.1 380.52,140.04" fill="#D95319" stroke="#D95319" stroke-width="0.5"/>
<polygon points="375.94,133.51 376.67,135.59 378.89,135.65 377.13,136.99 377.76,139.11 375.94,137.86 374.12,139.11 374.75,136.99 372.99,135.65 375.2,135.59" fill="#D95319" stroke="#D95319" stroke-width="0.5"/>
<polygon points="371.25,128.53 371.98,130.62 374.2,130.68 372.44,132.02 373.07,134.14 371.25,132.88 369.43,134.14 370.06,132.02 368.3,130.68 370.51,130.62" fill="#D95319" stroke="#D95319" stroke-width="0.5"/>
<polygon points="365.69,123.9 366.43,125.99 368.64,126.04 366.88,127.39 367.52,129.51 365.69,128.25 363.87,129.51 364.5,127.39 362.74,126.04 364.96,125.99" fill="#D95319" stroke="#D95319" stroke-width="0.5"/>
<polygon points="358.35,119 359.08,121.08 361.3,121.14 359.54,122.48 360.17,124.6 358.35,123.35 356.53,124.6 357.16,122.48 355.4,121.14 357.62,121.08" fill="#D95319" stroke="#D95319" stroke-width="0.5"/>
<polygon points="350.88,112.27 351.61,114.36 353.82,114.42 352.07,115.76 352.7,117.88 350.88,116.62 349.05,117.88 349.69,115.76 347.93,114.42 350.14,114.36" fill="#D95319" stroke="#D95319" stroke-width="0.5"/>
<polygon points="343.4,103.4 344.13,105.49 346.35,105.54 344.59,106.89 345.22,109.01 343.4,107.75 341.58,109.01 342.21,106.89 340.45,105.54 342.67,105.49" fill="#D95319" stroke="#D95319" stroke-width="0.5"/>
<polygon points="338.07,92.27 338.81,94.36 341.02,94.41 339.26,95.76 339.9,97.88 338.07,96.62 336.25,97.88 336.89,95.76 335.13,94.41 337.34,94.36" fill="#D95319" stroke="#D95319" stroke-width="0.5"/>
<polygon points="335.42,79.46 336.16,81.55 338.37,81.6 336.61,82.94 337.24,85.07 335.42,83.81 333.6,85.07 334.23,82.94 332.47,81.6 334.69,81.55" fill="#D95319" stroke="#D95319" stroke-width="0.5"/>
<polygon points="336.77,66.2 337.5,68.29 339.72,68.34 337.96,69.69 338.59,71.81 336.77,70.55 334.95,71.81 335.58,69.69 333.82,68.34 336.03,68.29" fill="#D95319" stroke="#D95319" stroke-width="0.5"/>
<polygon points="339.92,51.98 340.65,54.07 342.86,54.12 341.11,55.46 341.74,57.58 339.92,56.33 338.09,57.58 338.73,55.46 336.97,54.12 339.18,54.07" fill="#D95319" stroke="#D95319" stroke-width="0.5"/>
<polygon points="347.66,39.59 348.39,41.68 350.6,41.73 348.84,43.07 349.48,45.2 347.66,43.94 345.83,45.2 346.47,43.07 344.71,41.73 346.92,41.68" fill="#D95319" stroke="#D95319" stroke-width="0.5"/>
<polygon points="358.3,29.1 359.03,31.18 361.25,31.24 359.49,32.58 360.12,34.7 358.3,33.45 356.48,34.7 357.11,32.58 355.35,31.24 357.57,31.18" fill="#D95319" stroke="#D95319" stroke-width="0.5"/>
<polygon points="371.17,20.89 371.91,22.98 374.12,23.04 372.36,24.38 372.99,26.5 371.17,25.24 369.35,26.5 369.98,24.38 368.22,23.04 370.44,22.98" fill="#D95319" stroke="#D95319" stroke-width="0.5"/>
<polygon points="385.83,16.24 386.57,18.33 388.78,18.39 387.02,19.73 387.65,21.85 385.83,20.59 384.01,21.85 384.64,19.73 382.88,18.39 385.1,18.33" fill="#D95319" stroke="#D95319" stroke-width="0.5"/>
<path d="M401.2 51.2L410.68 52.73L419.7 55.66L427.75 60.51L434.3 67.05L439.2 74.62L441.9 83L443.3 91.18L442.96 99.14L440.5 106.5L438.23 113.03L436.44 119.33L436.27 126.75L435.6 135.36L433.53 145.03L428.85 154.39L421.17 161.38L411.78 166.47L401.2 168.4L390.45 167.46L380.13 164.39L371.45 158.03L364.63 150.09L360.37 140.76L358.25 131.3L356.47 122.78L354.62 114.71L354.2 106.5L354.62 98.29L356.09 90.08L358.07 81.6L361.75 73.4L367.33 66.13L374.45 60.17L382.77 55.85L391.72 52.73Z" fill="none" stroke="#EDB120" stroke-width="1.55" stroke-linejoin="round"/>
<rect x="399.25" y="49.25" width="3.9" height="3.9" fill="#EDB120" fill-opacity="0.3" stroke="#EDB120" stroke-width="1.1"/>
<rect x="408.73" y="50.78" width="3.9" height="3.9" fill="#EDB120" fill-opacity="0.3" stroke="#EDB120" stroke-width="1.1"/>
<rect x="417.75" y="53.71" width="3.9" height="3.9" fill="#EDB120" fill-opacity="0.3" stroke="#EDB120" stroke-width="1.1"/>
<rect x="425.8" y="58.56" width="3.9" height="3.9" fill="#EDB120" fill-opacity="0.3" stroke="#EDB120" stroke-width="1.1"/>
<rect x="432.35" y="65.1" width="3.9" height="3.9" fill="#EDB120" fill-opacity="0.3" stroke="#EDB120" stroke-width="1.1"/>
<rect x="437.25" y="72.67" width="3.9" height="3.9" fill="#EDB120" fill-opacity="0.3" stroke="#EDB120" stroke-width="1.1"/>
<rect x="439.95" y="81.05" width="3.9" height="3.9" fill="#EDB120" fill-opacity="0.3" stroke="#EDB120" stroke-width="1.1"/>
<rect x="441.35" y="89.23" width="3.9" height="3.9" fill="#EDB120" fill-opacity="0.3" stroke="#EDB120" stroke-width="1.1"/>
<rect x="441.01" y="97.19" width="3.9" height="3.9" fill="#EDB120" fill-opacity="0.3" stroke="#EDB120" stroke-width="1.1"/>
<rect x="438.55" y="104.55" width="3.9" height="3.9" fill="#EDB120" fill-opacity="0.3" stroke="#EDB120" stroke-width="1.1"/>
<rect x="436.28" y="111.08" width="3.9" height="3.9" fill="#EDB120" fill-opacity="0.3" stroke="#EDB120" stroke-width="1.1"/>
<rect x="434.49" y="117.38" width="3.9" height="3.9" fill="#EDB120" fill-opacity="0.3" stroke="#EDB120" stroke-width="1.1"/>
<rect x="434.32" y="124.8" width="3.9" height="3.9" fill="#EDB120" fill-opacity="0.3" stroke="#EDB120" stroke-width="1.1"/>
<rect x="433.65" y="133.41" width="3.9" height="3.9" fill="#EDB120" fill-opacity="0.3" stroke="#EDB120" stroke-width="1.1"/>
<rect x="431.58" y="143.08" width="3.9" height="3.9" fill="#EDB120" fill-opacity="0.3" stroke="#EDB120" stroke-width="1.1"/>
<rect x="426.9" y="152.44" width="3.9" height="3.9" fill="#EDB120" fill-opacity="0.3" stroke="#EDB120" stroke-width="1.1"/>
<rect x="419.22" y="159.43" width="3.9" height="3.9" fill="#EDB120" fill-opacity="0.3" stroke="#EDB120" stroke-width="1.1"/>
<rect x="409.83" y="164.52" width="3.9" height="3.9" fill="#EDB120" fill-opacity="0.3" stroke="#EDB120" stroke-width="1.1"/>
<rect x="399.25" y="166.45" width="3.9" height="3.9" fill="#EDB120" fill-opacity="0.3" stroke="#EDB120" stroke-width="1.1"/>
<rect x="388.5" y="165.51" width="3.9" height="3.9" fill="#EDB120" fill-opacity="0.3" stroke="#EDB120" stroke-width="1.1"/>
<rect x="378.18" y="162.44" width="3.9" height="3.9" fill="#EDB120" fill-opacity="0.3" stroke="#EDB120" stroke-width="1.1"/>
<rect x="369.5" y="156.08" width="3.9" height="3.9" fill="#EDB120" fill-opacity="0.3" stroke="#EDB120" stroke-width="1.1"/>
<rect x="362.68" y="148.14" width="3.9" height="3.9" fill="#EDB120" fill-opacity="0.3" stroke="#EDB120" stroke-width="1.1"/>
<rect x="358.42" y="138.81" width="3.9" height="3.9" fill="#EDB120" fill-opacity="0.3" stroke="#EDB120" stroke-width="1.1"/>
<rect x="356.3" y="129.35" width="3.9" height="3.9" fill="#EDB120" fill-opacity="0.3" stroke="#EDB120" stroke-width="1.1"/>
<rect x="354.52" y="120.83" width="3.9" height="3.9" fill="#EDB120" fill-opacity="0.3" stroke="#EDB120" stroke-width="1.1"/>
<rect x="352.67" y="112.76" width="3.9" height="3.9" fill="#EDB120" fill-opacity="0.3" stroke="#EDB120" stroke-width="1.1"/>
<rect x="352.25" y="104.55" width="3.9" height="3.9" fill="#EDB120" fill-opacity="0.3" stroke="#EDB120" stroke-width="1.1"/>
<rect x="352.67" y="96.34" width="3.9" height="3.9" fill="#EDB120" fill-opacity="0.3" stroke="#EDB120" stroke-width="1.1"/>
<rect x="354.14" y="88.13" width="3.9" height="3.9" fill="#EDB120" fill-opacity="0.3" stroke="#EDB120" stroke-width="1.1"/>
<rect x="356.12" y="79.65" width="3.9" height="3.9" fill="#EDB120" fill-opacity="0.3" stroke="#EDB120" stroke-width="1.1"/>
<rect x="359.8" y="71.45" width="3.9" height="3.9" fill="#EDB120" fill-opacity="0.3" stroke="#EDB120" stroke-width="1.1"/>
<rect x="365.38" y="64.18" width="3.9" height="3.9" fill="#EDB120" fill-opacity="0.3" stroke="#EDB120" stroke-width="1.1"/>
<rect x="372.5" y="58.22" width="3.9" height="3.9" fill="#EDB120" fill-opacity="0.3" stroke="#EDB120" stroke-width="1.1"/>
<rect x="380.82" y="53.9" width="3.9" height="3.9" fill="#EDB120" fill-opacity="0.3" stroke="#EDB120" stroke-width="1.1"/>
<rect x="389.77" y="50.78" width="3.9" height="3.9" fill="#EDB120" fill-opacity="0.3" stroke="#EDB120" stroke-width="1.1"/>
<path d="M401.2 38.7L413.09 39.04L424.59 42.23L434.65 48.56L442.72 57.01L448.31 66.97L451.69 77.35L452.32 87.89L449.85 97.92L446.1 106.5L443.84 114.02L444.71 122.34L445.97 132.35L445.32 143.52L441.18 154.15L433.65 162.71L423.84 168.71L412.76 172.09L401.2 172.9L389.79 171.2L378.63 168.52L369.1 162.1L361.67 153.61L356.54 143.97L354.26 133.6L353.37 123.91L353.73 114.87L353.9 106.5L353.93 98.16L353.46 89.13L354.61 79.6L357.23 69.6L361.99 59.77L369.2 51.07L378.56 44.29L389.41 39.63Z" fill="none" stroke="#7E2F8E" stroke-width="1.55" stroke-linejoin="round"/>
<path d="M399.7 36.1L403.9 38.7L399.7 41.3Z" fill="#7E2F8E" fill-opacity="0.4" stroke="#7E2F8E" stroke-width="1.1" stroke-linejoin="miter"/>
<path d="M411.59 36.44L415.79 39.04L411.59 41.64Z" fill="#7E2F8E" fill-opacity="0.4" stroke="#7E2F8E" stroke-width="1.1" stroke-linejoin="miter"/>
<path d="M423.09 39.63L427.29 42.23L423.09 44.83Z" fill="#7E2F8E" fill-opacity="0.4" stroke="#7E2F8E" stroke-width="1.1" stroke-linejoin="miter"/>
<path d="M433.15 45.96L437.35 48.56L433.15 51.16Z" fill="#7E2F8E" fill-opacity="0.4" stroke="#7E2F8E" stroke-width="1.1" stroke-linejoin="miter"/>
<path d="M441.22 54.41L445.42 57.01L441.22 59.61Z" fill="#7E2F8E" fill-opacity="0.4" stroke="#7E2F8E" stroke-width="1.1" stroke-linejoin="miter"/>
<path d="M446.81 64.37L451.01 66.97L446.81 69.57Z" fill="#7E2F8E" fill-opacity="0.4" stroke="#7E2F8E" stroke-width="1.1" stroke-linejoin="miter"/>
<path d="M450.19 74.75L454.39 77.35L450.19 79.95Z" fill="#7E2F8E" fill-opacity="0.4" stroke="#7E2F8E" stroke-width="1.1" stroke-linejoin="miter"/>
<path d="M450.82 85.29L455.02 87.89L450.82 90.49Z" fill="#7E2F8E" fill-opacity="0.4" stroke="#7E2F8E" stroke-width="1.1" stroke-linejoin="miter"/>
<path d="M448.35 95.32L452.55 97.92L448.35 100.52Z" fill="#7E2F8E" fill-opacity="0.4" stroke="#7E2F8E" stroke-width="1.1" stroke-linejoin="miter"/>
<path d="M444.6 103.9L448.8 106.5L444.6 109.1Z" fill="#7E2F8E" fill-opacity="0.4" stroke="#7E2F8E" stroke-width="1.1" stroke-linejoin="miter"/>
<path d="M442.34 111.42L446.54 114.02L442.34 116.62Z" fill="#7E2F8E" fill-opacity="0.4" stroke="#7E2F8E" stroke-width="1.1" stroke-linejoin="miter"/>
<path d="M443.21 119.74L447.41 122.34L443.21 124.94Z" fill="#7E2F8E" fill-opacity="0.4" stroke="#7E2F8E" stroke-width="1.1" stroke-linejoin="miter"/>
<path d="M444.47 129.75L448.67 132.35L444.47 134.95Z" fill="#7E2F8E" fill-opacity="0.4" stroke="#7E2F8E" stroke-width="1.1" stroke-linejoin="miter"/>
<path d="M443.82 140.92L448.02 143.52L443.82 146.12Z" fill="#7E2F8E" fill-opacity="0.4" stroke="#7E2F8E" stroke-width="1.1" stroke-linejoin="miter"/>
<path d="M439.68 151.55L443.88 154.15L439.68 156.75Z" fill="#7E2F8E" fill-opacity="0.4" stroke="#7E2F8E" stroke-width="1.1" stroke-linejoin="miter"/>
<path d="M432.15 160.11L436.35 162.71L432.15 165.31Z" fill="#7E2F8E" fill-opacity="0.4" stroke="#7E2F8E" stroke-width="1.1" stroke-linejoin="miter"/>
<path d="M422.34 166.11L426.54 168.71L422.34 171.31Z" fill="#7E2F8E" fill-opacity="0.4" stroke="#7E2F8E" stroke-width="1.1" stroke-linejoin="miter"/>
<path d="M411.26 169.49L415.46 172.09L411.26 174.69Z" fill="#7E2F8E" fill-opacity="0.4" stroke="#7E2F8E" stroke-width="1.1" stroke-linejoin="miter"/>
<path d="M399.7 170.3L403.9 172.9L399.7 175.5Z" fill="#7E2F8E" fill-opacity="0.4" stroke="#7E2F8E" stroke-width="1.1" stroke-linejoin="miter"/>
<path d="M388.29 168.6L392.49 171.2L388.29 173.8Z" fill="#7E2F8E" fill-opacity="0.4" stroke="#7E2F8E" stroke-width="1.1" stroke-linejoin="miter"/>
<path d="M377.13 165.92L381.33 168.52L377.13 171.12Z" fill="#7E2F8E" fill-opacity="0.4" stroke="#7E2F8E" stroke-width="1.1" stroke-linejoin="miter"/>
<path d="M367.6 159.5L371.8 162.1L367.6 164.7Z" fill="#7E2F8E" fill-opacity="0.4" stroke="#7E2F8E" stroke-width="1.1" stroke-linejoin="miter"/>
<path d="M360.17 151.01L364.37 153.61L360.17 156.21Z" fill="#7E2F8E" fill-opacity="0.4" stroke="#7E2F8E" stroke-width="1.1" stroke-linejoin="miter"/>
<path d="M355.04 141.37L359.24 143.97L355.04 146.57Z" fill="#7E2F8E" fill-opacity="0.4" stroke="#7E2F8E" stroke-width="1.1" stroke-linejoin="miter"/>
<path d="M352.76 131L356.96 133.6L352.76 136.2Z" fill="#7E2F8E" fill-opacity="0.4" stroke="#7E2F8E" stroke-width="1.1" stroke-linejoin="miter"/>
<path d="M351.87 121.31L356.07 123.91L351.87 126.51Z" fill="#7E2F8E" fill-opacity="0.4" stroke="#7E2F8E" stroke-width="1.1" stroke-linejoin="miter"/>
<path d="M352.23 112.27L356.43 114.87L352.23 117.47Z" fill="#7E2F8E" fill-opacity="0.4" stroke="#7E2F8E" stroke-width="1.1" stroke-linejoin="miter"/>
<path d="M352.4 103.9L356.6 106.5L352.4 109.1Z" fill="#7E2F8E" fill-opacity="0.4" stroke="#7E2F8E" stroke-width="1.1" stroke-linejoin="miter"/>
<path d="M352.43 95.56L356.63 98.16L352.43 100.76Z" fill="#7E2F8E" fill-opacity="0.4" stroke="#7E2F8E" stroke-width="1.1" stroke-linejoin="miter"/>
<path d="M351.96 86.53L356.16 89.13L351.96 91.73Z" fill="#7E2F8E" fill-opacity="0.4" stroke="#7E2F8E" stroke-width="1.1" stroke-linejoin="miter"/>
<path d="M353.11 77L357.31 79.6L353.11 82.2Z" fill="#7E2F8E" fill-opacity="0.4" stroke="#7E2F8E" stroke-width="1.1" stroke-linejoin="miter"/>
<path d="M355.73 67L359.93 69.6L355.73 72.2Z" fill="#7E2F8E" fill-opacity="0.4" stroke="#7E2F8E" stroke-width="1.1" stroke-linejoin="miter"/>
<path d="M360.49 57.17L364.69 59.77L360.49 62.37Z" fill="#7E2F8E" fill-opacity="0.4" stroke="#7E2F8E" stroke-width="1.1" stroke-linejoin="miter"/>
<path d="M367.7 48.47L371.9 51.07L367.7 53.67Z" fill="#7E2F8E" fill-opacity="0.4" stroke="#7E2F8E" stroke-width="1.1" stroke-linejoin="miter"/>
<path d="M377.06 41.69L381.26 44.29L377.06 46.89Z" fill="#7E2F8E" fill-opacity="0.4" stroke="#7E2F8E" stroke-width="1.1" stroke-linejoin="miter"/>
<path d="M387.91 37.03L392.11 39.63L387.91 42.23Z" fill="#7E2F8E" fill-opacity="0.4" stroke="#7E2F8E" stroke-width="1.1" stroke-linejoin="miter"/>
</g></g>
<g fill="#111" stroke="#111" stroke-width="0.2"><text x="402.7" y="14" font-size="12.5" text-anchor="middle" >θ=0°</text>
<text x="453.2" y="25.6" font-size="11" text-anchor="middle" >30</text>
<text x="487.4" y="62.9" font-size="11" text-anchor="middle" >60</text>
<text x="498" y="111.6" font-size="11" text-anchor="middle" >90</text>
<text x="486.8" y="161.5" font-size="11" text-anchor="middle" >120</text>
<text x="449.2" y="196.5" font-size="11" text-anchor="middle" >150</text>
<text x="399.8" y="209" font-size="11" text-anchor="middle" >180</text>
<text x="350.2" y="196" font-size="11" text-anchor="middle" >210</text>
<text x="313.2" y="160" font-size="11" text-anchor="middle" >240</text>
<text x="299.5" y="111.6" font-size="11" text-anchor="middle" >270</text>
<text x="313" y="64.1" font-size="11" text-anchor="middle" >300</text>
<text x="347.9" y="25.4" font-size="11" text-anchor="middle" >330</text>
<text x="423.2" y="27.1" font-size="8.6" text-anchor="middle" class="rl" fill="#000" stroke="none" transform="rotate(8 423.2 24.2)">0</text>
<text x="416.4" y="53.2" font-size="8.6" text-anchor="middle" class="rl" fill="#000" stroke="none" transform="rotate(8 416.4 50.3)">-10</text>
<text x="407.7" y="81.8" font-size="8.6" text-anchor="middle" class="rl" fill="#000" stroke="none" transform="rotate(8 407.7 78.9)">-20</text>
<text x="400.3" y="110.7" font-size="8.6" text-anchor="middle" class="rl" fill="#000" stroke="none" transform="rotate(8 400.3 107.8)">-30</text></g>
<g><clipPath id="cp3"><circle cx="113" cy="390" r="87.6"/></clipPath>
<circle cx="113" cy="390" r="29" fill="none" stroke="#c0c0c0" stroke-width="1"/>
<circle cx="113" cy="390" r="58" fill="none" stroke="#c0c0c0" stroke-width="1"/>
<circle cx="113" cy="390" r="87" fill="none" stroke="#c0c0c0" stroke-width="1"/>
<line x1="113" y1="361" x2="113" y2="303" stroke="#c0c0c0" stroke-width="1"/>
<line x1="127.5" y1="364.89" x2="156.5" y2="314.66" stroke="#c0c0c0" stroke-width="1"/>
<line x1="138.11" y1="375.5" x2="188.34" y2="346.5" stroke="#c0c0c0" stroke-width="1"/>
<line x1="142" y1="390" x2="200" y2="390" stroke="#c0c0c0" stroke-width="1"/>
<line x1="138.11" y1="404.5" x2="188.34" y2="433.5" stroke="#c0c0c0" stroke-width="1"/>
<line x1="127.5" y1="415.11" x2="156.5" y2="465.34" stroke="#c0c0c0" stroke-width="1"/>
<line x1="113" y1="419" x2="113" y2="477" stroke="#c0c0c0" stroke-width="1"/>
<line x1="98.5" y1="415.11" x2="69.5" y2="465.34" stroke="#c0c0c0" stroke-width="1"/>
<line x1="87.89" y1="404.5" x2="37.66" y2="433.5" stroke="#c0c0c0" stroke-width="1"/>
<line x1="84" y1="390" x2="26" y2="390" stroke="#c0c0c0" stroke-width="1"/>
<line x1="87.89" y1="375.5" x2="37.66" y2="346.5" stroke="#c0c0c0" stroke-width="1"/>
<line x1="98.5" y1="364.89" x2="69.5" y2="314.66" stroke="#c0c0c0" stroke-width="1"/>
<g clip-path="url(#cp3)">
<path d="M113 303.5L127.99 305.01L142.35 309.37L154.85 317.51L164.81 328.26L172.67 339.93L177.52 352.75L178.31 366.23L176.52 378.8L172.7 390L168.44 399.78L160.55 407.31L153.27 413.25L145.71 417.45L140 422.17L134.6 427.41L128.9 433.7L121.47 438.06L113 439.8L104.04 440.82L94.98 439.52L86.5 435.9L78.23 431.44L70.1 426L61.82 419.55L54.74 411.21L48.59 401.36L44.1 390L41.7 377.43L42.43 364.31L45.71 351.15L51.41 338.32L59.84 326.65L70.7 316.73L83.55 309.09L97.98 304.81Z" fill="none" stroke="#0072BD" stroke-width="1.55" stroke-linejoin="round"/>
<circle cx="113" cy="303.5" r="2.1" fill="#0072BD" fill-opacity="0.18" stroke="#0072BD" stroke-width="1.1"/>
<circle cx="127.99" cy="305.01" r="2.1" fill="#0072BD" fill-opacity="0.18" stroke="#0072BD" stroke-width="1.1"/>
<circle cx="142.35" cy="309.37" r="2.1" fill="#0072BD" fill-opacity="0.18" stroke="#0072BD" stroke-width="1.1"/>
<circle cx="154.85" cy="317.51" r="2.1" fill="#0072BD" fill-opacity="0.18" stroke="#0072BD" stroke-width="1.1"/>
<circle cx="164.81" cy="328.26" r="2.1" fill="#0072BD" fill-opacity="0.18" stroke="#0072BD" stroke-width="1.1"/>
<circle cx="172.67" cy="339.93" r="2.1" fill="#0072BD" fill-opacity="0.18" stroke="#0072BD" stroke-width="1.1"/>
<circle cx="177.52" cy="352.75" r="2.1" fill="#0072BD" fill-opacity="0.18" stroke="#0072BD" stroke-width="1.1"/>
<circle cx="178.31" cy="366.23" r="2.1" fill="#0072BD" fill-opacity="0.18" stroke="#0072BD" stroke-width="1.1"/>
<circle cx="176.52" cy="378.8" r="2.1" fill="#0072BD" fill-opacity="0.18" stroke="#0072BD" stroke-width="1.1"/>
<circle cx="172.7" cy="390" r="2.1" fill="#0072BD" fill-opacity="0.18" stroke="#0072BD" stroke-width="1.1"/>
<circle cx="168.44" cy="399.78" r="2.1" fill="#0072BD" fill-opacity="0.18" stroke="#0072BD" stroke-width="1.1"/>
<circle cx="160.55" cy="407.31" r="2.1" fill="#0072BD" fill-opacity="0.18" stroke="#0072BD" stroke-width="1.1"/>
<circle cx="153.27" cy="413.25" r="2.1" fill="#0072BD" fill-opacity="0.18" stroke="#0072BD" stroke-width="1.1"/>
<circle cx="145.71" cy="417.45" r="2.1" fill="#0072BD" fill-opacity="0.18" stroke="#0072BD" stroke-width="1.1"/>
<circle cx="140" cy="422.17" r="2.1" fill="#0072BD" fill-opacity="0.18" stroke="#0072BD" stroke-width="1.1"/>
<circle cx="134.6" cy="427.41" r="2.1" fill="#0072BD" fill-opacity="0.18" stroke="#0072BD" stroke-width="1.1"/>
<circle cx="128.9" cy="433.7" r="2.1" fill="#0072BD" fill-opacity="0.18" stroke="#0072BD" stroke-width="1.1"/>
<circle cx="121.47" cy="438.06" r="2.1" fill="#0072BD" fill-opacity="0.18" stroke="#0072BD" stroke-width="1.1"/>
<circle cx="113" cy="439.8" r="2.1" fill="#0072BD" fill-opacity="0.18" stroke="#0072BD" stroke-width="1.1"/>
<circle cx="104.04" cy="440.82" r="2.1" fill="#0072BD" fill-opacity="0.18" stroke="#0072BD" stroke-width="1.1"/>
<circle cx="94.98" cy="439.52" r="2.1" fill="#0072BD" fill-opacity="0.18" stroke="#0072BD" stroke-width="1.1"/>
<circle cx="86.5" cy="435.9" r="2.1" fill="#0072BD" fill-opacity="0.18" stroke="#0072BD" stroke-width="1.1"/>
<circle cx="78.23" cy="431.44" r="2.1" fill="#0072BD" fill-opacity="0.18" stroke="#0072BD" stroke-width="1.1"/>
<circle cx="70.1" cy="426" r="2.1" fill="#0072BD" fill-opacity="0.18" stroke="#0072BD" stroke-width="1.1"/>
<circle cx="61.82" cy="419.55" r="2.1" fill="#0072BD" fill-opacity="0.18" stroke="#0072BD" stroke-width="1.1"/>
<circle cx="54.74" cy="411.21" r="2.1" fill="#0072BD" fill-opacity="0.18" stroke="#0072BD" stroke-width="1.1"/>
<circle cx="48.59" cy="401.36" r="2.1" fill="#0072BD" fill-opacity="0.18" stroke="#0072BD" stroke-width="1.1"/>
<circle cx="44.1" cy="390" r="2.1" fill="#0072BD" fill-opacity="0.18" stroke="#0072BD" stroke-width="1.1"/>
<circle cx="41.7" cy="377.43" r="2.1" fill="#0072BD" fill-opacity="0.18" stroke="#0072BD" stroke-width="1.1"/>
<circle cx="42.43" cy="364.31" r="2.1" fill="#0072BD" fill-opacity="0.18" stroke="#0072BD" stroke-width="1.1"/>
<circle cx="45.71" cy="351.15" r="2.1" fill="#0072BD" fill-opacity="0.18" stroke="#0072BD" stroke-width="1.1"/>
<circle cx="51.41" cy="338.32" r="2.1" fill="#0072BD" fill-opacity="0.18" stroke="#0072BD" stroke-width="1.1"/>
<circle cx="59.84" cy="326.65" r="2.1" fill="#0072BD" fill-opacity="0.18" stroke="#0072BD" stroke-width="1.1"/>
<circle cx="70.7" cy="316.73" r="2.1" fill="#0072BD" fill-opacity="0.18" stroke="#0072BD" stroke-width="1.1"/>
<circle cx="83.55" cy="309.09" r="2.1" fill="#0072BD" fill-opacity="0.18" stroke="#0072BD" stroke-width="1.1"/>
<circle cx="97.98" cy="304.81" r="2.1" fill="#0072BD" fill-opacity="0.18" stroke="#0072BD" stroke-width="1.1"/>
<path d="M113 303.5L127.99 305.01L142.48 309L155.35 316.65L166.87 325.81L175.51 337.55L180.46 351.05L181.97 364.9L181.15 377.98L178.7 390L173.17 400.61L162.8 408.13L134.22 402.25L131.16 405.23L139.93 422.1L136.7 431.05L130.82 438.96L121.61 438.85L113 442.5L106.47 427.03L97.68 432.1L89.9 430.01L82.6 426.23L88.49 410.57L113 390L71.18 405.22L55.29 400.18L47.3 390L44.46 377.91L44.59 365.1L47.36 352.1L52.64 339.35L60.48 327.41L71.15 317.51L83.89 310.03L98.01 305.01Z" fill="none" stroke="#D95319" stroke-width="1.55" stroke-linejoin="round"/>
<polygon points="113,300.4 113.73,302.49 115.95,302.54 114.19,303.89 114.82,306.01 113,304.75 111.18,306.01 111.81,303.89 110.05,302.54 112.27,302.49" fill="#D95319" stroke="#D95319" stroke-width="0.5"/>
<polygon points="127.99,301.91 128.72,304 130.93,304.05 129.17,305.4 129.81,307.52 127.99,306.26 126.16,307.52 126.8,305.4 125.04,304.05 127.25,304" fill="#D95319" stroke="#D95319" stroke-width="0.5"/>
<polygon points="142.48,305.9 143.22,307.99 145.43,308.04 143.67,309.38 144.3,311.51 142.48,310.25 140.66,311.51 141.29,309.38 139.53,308.04 141.75,307.99" fill="#D95319" stroke="#D95319" stroke-width="0.5"/>
<polygon points="155.35,313.55 156.08,315.64 158.3,315.69 156.54,317.03 157.17,319.16 155.35,317.9 153.53,319.16 154.16,317.03 152.4,315.69 154.62,315.64" fill="#D95319" stroke="#D95319" stroke-width="0.5"/>
<polygon points="166.87,322.71 167.6,324.79 169.81,324.85 168.05,326.19 168.69,328.31 166.87,327.06 165.04,328.31 165.68,326.19 163.92,324.85 166.13,324.79" fill="#D95319" stroke="#D95319" stroke-width="0.5"/>
<polygon points="175.51,334.45 176.24,336.54 178.46,336.59 176.7,337.93 177.33,340.06 175.51,338.8 173.69,340.06 174.32,337.93 172.56,336.59 174.77,336.54" fill="#D95319" stroke="#D95319" stroke-width="0.5"/>
<polygon points="180.46,347.95 181.2,350.04 183.41,350.09 181.65,351.44 182.29,353.56 180.46,352.3 178.64,353.56 179.27,351.44 177.52,350.09 179.73,350.04" fill="#D95319" stroke="#D95319" stroke-width="0.5"/>
<polygon points="181.97,361.8 182.71,363.88 184.92,363.94 183.16,365.28 183.8,367.4 181.97,366.15 180.15,367.4 180.78,365.28 179.03,363.94 181.24,363.88" fill="#D95319" stroke="#D95319" stroke-width="0.5"/>
<polygon points="181.15,374.88 181.88,376.97 184.1,377.03 182.34,378.37 182.97,380.49 181.15,379.23 179.33,380.49 179.96,378.37 178.2,377.03 180.41,376.97" fill="#D95319" stroke="#D95319" stroke-width="0.5"/>
<polygon points="178.7,386.9 179.43,388.99 181.65,389.04 179.89,390.39 180.52,392.51 178.7,391.25 176.88,392.51 177.51,390.39 175.75,389.04 177.97,388.99" fill="#D95319" stroke="#D95319" stroke-width="0.5"/>
<polygon points="173.17,397.51 173.91,399.6 176.12,399.65 174.36,401 174.99,403.12 173.17,401.86 171.35,403.12 171.98,401 170.22,399.65 172.44,399.6" fill="#D95319" stroke="#D95319" stroke-width="0.5"/>
<polygon points="162.8,405.03 163.54,407.12 165.75,407.17 163.99,408.51 164.63,410.64 162.8,409.38 160.98,410.64 161.61,408.51 159.86,407.17 162.07,407.12" fill="#D95319" stroke="#D95319" stroke-width="0.5"/>
<polygon points="134.22,399.15 134.95,401.24 137.17,401.29 135.41,402.64 136.04,404.76 134.22,403.5 132.4,404.76 133.03,402.64 131.27,401.29 133.48,401.24" fill="#D95319" stroke="#D95319" stroke-width="0.5"/>
<polygon points="131.16,402.13 131.89,404.22 134.1,404.28 132.34,405.62 132.98,407.74 131.16,406.48 129.33,407.74 129.97,405.62 128.21,404.28 130.42,404.22" fill="#D95319" stroke="#D95319" stroke-width="0.5"/>
<polygon points="139.93,419 140.67,421.09 142.88,421.14 141.12,422.48 141.75,424.61 139.93,423.35 138.11,424.61 138.74,422.48 136.98,421.14 139.2,421.09" fill="#D95319" stroke="#D95319" stroke-width="0.5"/>
<polygon points="136.7,427.95 137.43,430.04 139.65,430.09 137.89,431.44 138.52,433.56 136.7,432.3 134.88,433.56 135.51,431.44 133.75,430.09 135.97,430.04" fill="#D95319" stroke="#D95319" stroke-width="0.5"/>
<polygon points="130.82,435.86 131.55,437.95 133.77,438 132.01,439.34 132.64,441.47 130.82,440.21 129,441.47 129.63,439.34 127.87,438 130.08,437.95" fill="#D95319" stroke="#D95319" stroke-width="0.5"/>
<polygon points="121.61,435.75 122.35,437.84 124.56,437.89 122.8,439.23 123.44,441.35 121.61,440.1 119.79,441.35 120.42,439.23 118.66,437.89 120.88,437.84" fill="#D95319" stroke="#D95319" stroke-width="0.5"/>
<polygon points="113,439.4 113.73,441.49 115.95,441.54 114.19,442.89 114.82,445.01 113,443.75 111.18,445.01 111.81,442.89 110.05,441.54 112.27,441.49" fill="#D95319" stroke="#D95319" stroke-width="0.5"/>
<polygon points="106.47,423.93 107.21,426.02 109.42,426.07 107.66,427.42 108.29,429.54 106.47,428.28 104.65,429.54 105.28,427.42 103.52,426.07 105.74,426.02" fill="#D95319" stroke="#D95319" stroke-width="0.5"/>
<polygon points="97.68,429 98.41,431.09 100.63,431.14 98.87,432.48 99.5,434.61 97.68,433.35 95.86,434.61 96.49,432.48 94.73,431.14 96.94,431.09" fill="#D95319" stroke="#D95319" stroke-width="0.5"/>
<polygon points="89.9,426.91 90.63,429 92.85,429.05 91.09,430.4 91.72,432.52 89.9,431.26 88.08,432.52 88.71,430.4 86.95,429.05 89.17,429" fill="#D95319" stroke="#D95319" stroke-width="0.5"/>
<polygon points="82.6,423.13 83.33,425.22 85.54,425.28 83.78,426.62 84.42,428.74 82.6,427.48 80.77,428.74 81.41,426.62 79.65,425.28 81.86,425.22" fill="#D95319" stroke="#D95319" stroke-width="0.5"/>
<polygon points="88.49,407.47 89.22,409.56 91.43,409.61 89.68,410.96 90.31,413.08 88.49,411.82 86.66,413.08 87.3,410.96 85.54,409.61 87.75,409.56" fill="#D95319" stroke="#D95319" stroke-width="0.5"/>
<polygon points="113,386.9 113.73,388.99 115.95,389.04 114.19,390.39 114.82,392.51 113,391.25 111.18,392.51 111.81,390.39 110.05,389.04 112.27,388.99" fill="#D95319" stroke="#D95319" stroke-width="0.5"/>
<polygon points="71.18,402.12 71.92,404.21 74.13,404.26 72.37,405.61 73.01,407.73 71.18,406.47 69.36,407.73 69.99,405.61 68.24,404.26 70.45,404.21" fill="#D95319" stroke="#D95319" stroke-width="0.5"/>
<polygon points="55.29,397.08 56.02,399.16 58.24,399.22 56.48,400.56 57.11,402.68 55.29,401.43 53.47,402.68 54.1,400.56 52.34,399.22 54.56,399.16" fill="#D95319" stroke="#D95319" stroke-width="0.5"/>
<polygon points="47.3,386.9 48.03,388.99 50.25,389.04 48.49,390.39 49.12,392.51 47.3,391.25 45.48,392.51 46.11,390.39 44.35,389.04 46.57,388.99" fill="#D95319" stroke="#D95319" stroke-width="0.5"/>
<polygon points="44.46,374.81 45.19,376.9 47.41,376.96 45.65,378.3 46.28,380.42 44.46,379.16 42.64,380.42 43.27,378.3 41.51,376.96 43.72,376.9" fill="#D95319" stroke="#D95319" stroke-width="0.5"/>
<polygon points="44.59,362 45.33,364.09 47.54,364.14 45.78,365.49 46.41,367.61 44.59,366.35 42.77,367.61 43.4,365.49 41.64,364.14 43.86,364.09" fill="#D95319" stroke="#D95319" stroke-width="0.5"/>
<polygon points="47.36,349 48.09,351.09 50.3,351.14 48.54,352.49 49.18,354.61 47.36,353.35 45.53,354.61 46.17,352.49 44.41,351.14 46.62,351.09" fill="#D95319" stroke="#D95319" stroke-width="0.5"/>
<polygon points="52.64,336.25 53.37,338.34 55.58,338.39 53.82,339.73 54.46,341.86 52.64,340.6 50.81,341.86 51.45,339.73 49.69,338.39 51.9,338.34" fill="#D95319" stroke="#D95319" stroke-width="0.5"/>
<polygon points="60.48,324.31 61.22,326.4 63.43,326.46 61.67,327.8 62.31,329.92 60.48,328.66 58.66,329.92 59.3,327.8 57.54,326.46 59.75,326.4" fill="#D95319" stroke="#D95319" stroke-width="0.5"/>
<polygon points="71.15,314.41 71.88,316.5 74.1,316.56 72.34,317.9 72.97,320.02 71.15,318.76 69.33,320.02 69.96,317.9 68.2,316.56 70.42,316.5" fill="#D95319" stroke="#D95319" stroke-width="0.5"/>
<polygon points="83.89,306.93 84.63,309.02 86.84,309.07 85.08,310.42 85.72,312.54 83.89,311.28 82.07,312.54 82.71,310.42 80.95,309.07 83.16,309.02" fill="#D95319" stroke="#D95319" stroke-width="0.5"/>
<polygon points="98.01,301.91 98.75,304 100.96,304.05 99.2,305.4 99.84,307.52 98.01,306.26 96.19,307.52 96.83,305.4 95.07,304.05 97.28,304" fill="#D95319" stroke="#D95319" stroke-width="0.5"/>
<path d="M113 356L118.99 356.02L125.07 356.83L130.8 359.17L137.17 361.2L144.1 363.9L150.67 368.25L157.35 373.86L161.16 381.51L158.5 390L156.63 397.69L150.59 403.68L138.98 405L124.11 399.32L113 390L113 390L122.58 416.31L118.56 421.51L113 422.4L108.21 417.18L107.32 405.6L113 390L113 390L98.75 401.96L89.18 403.75L82.74 401.01L78.33 396.11L75.7 390L75.77 383.44L77.39 377.04L80.26 371.1L84.81 366.35L89.73 362.27L95.15 359.08L100.93 356.83L107.01 356.02Z" fill="none" stroke="#EDB120" stroke-width="1.55" stroke-linejoin="round"/>
<rect x="111.05" y="354.05" width="3.9" height="3.9" fill="#EDB120" fill-opacity="0.3" stroke="#EDB120" stroke-width="1.1"/>
<rect x="117.04" y="354.07" width="3.9" height="3.9" fill="#EDB120" fill-opacity="0.3" stroke="#EDB120" stroke-width="1.1"/>
<rect x="123.12" y="354.88" width="3.9" height="3.9" fill="#EDB120" fill-opacity="0.3" stroke="#EDB120" stroke-width="1.1"/>
<rect x="128.85" y="357.22" width="3.9" height="3.9" fill="#EDB120" fill-opacity="0.3" stroke="#EDB120" stroke-width="1.1"/>
<rect x="135.22" y="359.25" width="3.9" height="3.9" fill="#EDB120" fill-opacity="0.3" stroke="#EDB120" stroke-width="1.1"/>
<rect x="142.15" y="361.95" width="3.9" height="3.9" fill="#EDB120" fill-opacity="0.3" stroke="#EDB120" stroke-width="1.1"/>
<rect x="148.72" y="366.3" width="3.9" height="3.9" fill="#EDB120" fill-opacity="0.3" stroke="#EDB120" stroke-width="1.1"/>
<rect x="155.4" y="371.91" width="3.9" height="3.9" fill="#EDB120" fill-opacity="0.3" stroke="#EDB120" stroke-width="1.1"/>
<rect x="159.21" y="379.56" width="3.9" height="3.9" fill="#EDB120" fill-opacity="0.3" stroke="#EDB120" stroke-width="1.1"/>
<rect x="156.55" y="388.05" width="3.9" height="3.9" fill="#EDB120" fill-opacity="0.3" stroke="#EDB120" stroke-width="1.1"/>
<rect x="154.68" y="395.74" width="3.9" height="3.9" fill="#EDB120" fill-opacity="0.3" stroke="#EDB120" stroke-width="1.1"/>
<rect x="148.64" y="401.73" width="3.9" height="3.9" fill="#EDB120" fill-opacity="0.3" stroke="#EDB120" stroke-width="1.1"/>
<rect x="137.03" y="403.05" width="3.9" height="3.9" fill="#EDB120" fill-opacity="0.3" stroke="#EDB120" stroke-width="1.1"/>
<rect x="122.16" y="397.37" width="3.9" height="3.9" fill="#EDB120" fill-opacity="0.3" stroke="#EDB120" stroke-width="1.1"/>
<rect x="111.05" y="388.05" width="3.9" height="3.9" fill="#EDB120" fill-opacity="0.3" stroke="#EDB120" stroke-width="1.1"/>
<rect x="111.05" y="388.05" width="3.9" height="3.9" fill="#EDB120" fill-opacity="0.3" stroke="#EDB120" stroke-width="1.1"/>
<rect x="120.63" y="414.36" width="3.9" height="3.9" fill="#EDB120" fill-opacity="0.3" stroke="#EDB120" stroke-width="1.1"/>
<rect x="116.61" y="419.56" width="3.9" height="3.9" fill="#EDB120" fill-opacity="0.3" stroke="#EDB120" stroke-width="1.1"/>
<rect x="111.05" y="420.45" width="3.9" height="3.9" fill="#EDB120" fill-opacity="0.3" stroke="#EDB120" stroke-width="1.1"/>
<rect x="106.26" y="415.23" width="3.9" height="3.9" fill="#EDB120" fill-opacity="0.3" stroke="#EDB120" stroke-width="1.1"/>
<rect x="105.37" y="403.65" width="3.9" height="3.9" fill="#EDB120" fill-opacity="0.3" stroke="#EDB120" stroke-width="1.1"/>
<rect x="111.05" y="388.05" width="3.9" height="3.9" fill="#EDB120" fill-opacity="0.3" stroke="#EDB120" stroke-width="1.1"/>
<rect x="111.05" y="388.05" width="3.9" height="3.9" fill="#EDB120" fill-opacity="0.3" stroke="#EDB120" stroke-width="1.1"/>
<rect x="96.8" y="400.01" width="3.9" height="3.9" fill="#EDB120" fill-opacity="0.3" stroke="#EDB120" stroke-width="1.1"/>
<rect x="87.23" y="401.8" width="3.9" height="3.9" fill="#EDB120" fill-opacity="0.3" stroke="#EDB120" stroke-width="1.1"/>
<rect x="80.79" y="399.06" width="3.9" height="3.9" fill="#EDB120" fill-opacity="0.3" stroke="#EDB120" stroke-width="1.1"/>
<rect x="76.38" y="394.16" width="3.9" height="3.9" fill="#EDB120" fill-opacity="0.3" stroke="#EDB120" stroke-width="1.1"/>
<rect x="73.75" y="388.05" width="3.9" height="3.9" fill="#EDB120" fill-opacity="0.3" stroke="#EDB120" stroke-width="1.1"/>
<rect x="73.82" y="381.49" width="3.9" height="3.9" fill="#EDB120" fill-opacity="0.3" stroke="#EDB120" stroke-width="1.1"/>
<rect x="75.44" y="375.09" width="3.9" height="3.9" fill="#EDB120" fill-opacity="0.3" stroke="#EDB120" stroke-width="1.1"/>
<rect x="78.31" y="369.15" width="3.9" height="3.9" fill="#EDB120" fill-opacity="0.3" stroke="#EDB120" stroke-width="1.1"/>
<rect x="82.86" y="364.4" width="3.9" height="3.9" fill="#EDB120" fill-opacity="0.3" stroke="#EDB120" stroke-width="1.1"/>
<rect x="87.78" y="360.32" width="3.9" height="3.9" fill="#EDB120" fill-opacity="0.3" stroke="#EDB120" stroke-width="1.1"/>
<rect x="93.2" y="357.13" width="3.9" height="3.9" fill="#EDB120" fill-opacity="0.3" stroke="#EDB120" stroke-width="1.1"/>
<rect x="98.98" y="354.88" width="3.9" height="3.9" fill="#EDB120" fill-opacity="0.3" stroke="#EDB120" stroke-width="1.1"/>
<rect x="105.06" y="354.07" width="3.9" height="3.9" fill="#EDB120" fill-opacity="0.3" stroke="#EDB120" stroke-width="1.1"/>
<path d="M113 345.3L119.16 355.04L125.45 355.8L137.7 347.22L151.25 344.42L161.64 349.18L167.39 358.6L168.54 369.79L167.46 380.4L167 390L166.97 399.52L164.59 408.78L154.14 413.75L124.11 399.32L113 390L129 417.71L128.97 433.88L118.75 422.6L113 438L104.54 437.96L97.27 433.23L106.8 400.74L96.16 410.07L88.03 410.95L85.46 405.9L70.9 405.32L58.54 399.6L51.6 390L50.46 378.97L52.48 367.97L58.44 358.5L67.65 351.95L79.19 349.71L90.35 350.77L98.91 351.28L105.19 345.68Z" fill="none" stroke="#7E2F8E" stroke-width="1.55" stroke-linejoin="round"/>
<path d="M111.5 342.7L115.7 345.3L111.5 347.9Z" fill="#7E2F8E" fill-opacity="0.4" stroke="#7E2F8E" stroke-width="1.1" stroke-linejoin="miter"/>
<path d="M117.66 352.44L121.86 355.04L117.66 357.64Z" fill="#7E2F8E" fill-opacity="0.4" stroke="#7E2F8E" stroke-width="1.1" stroke-linejoin="miter"/>
<path d="M123.95 353.2L128.15 355.8L123.95 358.4Z" fill="#7E2F8E" fill-opacity="0.4" stroke="#7E2F8E" stroke-width="1.1" stroke-linejoin="miter"/>
<path d="M136.2 344.62L140.4 347.22L136.2 349.82Z" fill="#7E2F8E" fill-opacity="0.4" stroke="#7E2F8E" stroke-width="1.1" stroke-linejoin="miter"/>
<path d="M149.75 341.82L153.95 344.42L149.75 347.02Z" fill="#7E2F8E" fill-opacity="0.4" stroke="#7E2F8E" stroke-width="1.1" stroke-linejoin="miter"/>
<path d="M160.14 346.58L164.34 349.18L160.14 351.78Z" fill="#7E2F8E" fill-opacity="0.4" stroke="#7E2F8E" stroke-width="1.1" stroke-linejoin="miter"/>
<path d="M165.89 356L170.09 358.6L165.89 361.2Z" fill="#7E2F8E" fill-opacity="0.4" stroke="#7E2F8E" stroke-width="1.1" stroke-linejoin="miter"/>
<path d="M167.04 367.19L171.24 369.79L167.04 372.39Z" fill="#7E2F8E" fill-opacity="0.4" stroke="#7E2F8E" stroke-width="1.1" stroke-linejoin="miter"/>
<path d="M165.96 377.8L170.16 380.4L165.96 383Z" fill="#7E2F8E" fill-opacity="0.4" stroke="#7E2F8E" stroke-width="1.1" stroke-linejoin="miter"/>
<path d="M165.5 387.4L169.7 390L165.5 392.6Z" fill="#7E2F8E" fill-opacity="0.4" stroke="#7E2F8E" stroke-width="1.1" stroke-linejoin="miter"/>
<path d="M165.47 396.92L169.67 399.52L165.47 402.12Z" fill="#7E2F8E" fill-opacity="0.4" stroke="#7E2F8E" stroke-width="1.1" stroke-linejoin="miter"/>
<path d="M163.09 406.18L167.29 408.78L163.09 411.38Z" fill="#7E2F8E" fill-opacity="0.4" stroke="#7E2F8E" stroke-width="1.1" stroke-linejoin="miter"/>
<path d="M152.64 411.15L156.84 413.75L152.64 416.35Z" fill="#7E2F8E" fill-opacity="0.4" stroke="#7E2F8E" stroke-width="1.1" stroke-linejoin="miter"/>
<path d="M122.61 396.72L126.81 399.32L122.61 401.92Z" fill="#7E2F8E" fill-opacity="0.4" stroke="#7E2F8E" stroke-width="1.1" stroke-linejoin="miter"/>
<path d="M111.5 387.4L115.7 390L111.5 392.6Z" fill="#7E2F8E" fill-opacity="0.4" stroke="#7E2F8E" stroke-width="1.1" stroke-linejoin="miter"/>
<path d="M127.5 415.11L131.7 417.71L127.5 420.31Z" fill="#7E2F8E" fill-opacity="0.4" stroke="#7E2F8E" stroke-width="1.1" stroke-linejoin="miter"/>
<path d="M127.47 431.28L131.67 433.88L127.47 436.48Z" fill="#7E2F8E" fill-opacity="0.4" stroke="#7E2F8E" stroke-width="1.1" stroke-linejoin="miter"/>
<path d="M117.25 420L121.45 422.6L117.25 425.2Z" fill="#7E2F8E" fill-opacity="0.4" stroke="#7E2F8E" stroke-width="1.1" stroke-linejoin="miter"/>
<path d="M111.5 435.4L115.7 438L111.5 440.6Z" fill="#7E2F8E" fill-opacity="0.4" stroke="#7E2F8E" stroke-width="1.1" stroke-linejoin="miter"/>
<path d="M103.04 435.36L107.24 437.96L103.04 440.56Z" fill="#7E2F8E" fill-opacity="0.4" stroke="#7E2F8E" stroke-width="1.1" stroke-linejoin="miter"/>
<path d="M95.77 430.63L99.97 433.23L95.77 435.83Z" fill="#7E2F8E" fill-opacity="0.4" stroke="#7E2F8E" stroke-width="1.1" stroke-linejoin="miter"/>
<path d="M105.3 398.14L109.5 400.74L105.3 403.34Z" fill="#7E2F8E" fill-opacity="0.4" stroke="#7E2F8E" stroke-width="1.1" stroke-linejoin="miter"/>
<path d="M94.66 407.47L98.86 410.07L94.66 412.67Z" fill="#7E2F8E" fill-opacity="0.4" stroke="#7E2F8E" stroke-width="1.1" stroke-linejoin="miter"/>
<path d="M86.53 408.35L90.73 410.95L86.53 413.55Z" fill="#7E2F8E" fill-opacity="0.4" stroke="#7E2F8E" stroke-width="1.1" stroke-linejoin="miter"/>
<path d="M83.96 403.3L88.16 405.9L83.96 408.5Z" fill="#7E2F8E" fill-opacity="0.4" stroke="#7E2F8E" stroke-width="1.1" stroke-linejoin="miter"/>
<path d="M69.4 402.72L73.6 405.32L69.4 407.92Z" fill="#7E2F8E" fill-opacity="0.4" stroke="#7E2F8E" stroke-width="1.1" stroke-linejoin="miter"/>
<path d="M57.04 397L61.24 399.6L57.04 402.2Z" fill="#7E2F8E" fill-opacity="0.4" stroke="#7E2F8E" stroke-width="1.1" stroke-linejoin="miter"/>
<path d="M50.1 387.4L54.3 390L50.1 392.6Z" fill="#7E2F8E" fill-opacity="0.4" stroke="#7E2F8E" stroke-width="1.1" stroke-linejoin="miter"/>
<path d="M48.96 376.37L53.16 378.97L48.96 381.57Z" fill="#7E2F8E" fill-opacity="0.4" stroke="#7E2F8E" stroke-width="1.1" stroke-linejoin="miter"/>
<path d="M50.98 365.37L55.18 367.97L50.98 370.57Z" fill="#7E2F8E" fill-opacity="0.4" stroke="#7E2F8E" stroke-width="1.1" stroke-linejoin="miter"/>
<path d="M56.94 355.9L61.14 358.5L56.94 361.1Z" fill="#7E2F8E" fill-opacity="0.4" stroke="#7E2F8E" stroke-width="1.1" stroke-linejoin="miter"/>
<path d="M66.15 349.35L70.35 351.95L66.15 354.55Z" fill="#7E2F8E" fill-opacity="0.4" stroke="#7E2F8E" stroke-width="1.1" stroke-linejoin="miter"/>
<path d="M77.69 347.11L81.89 349.71L77.69 352.31Z" fill="#7E2F8E" fill-opacity="0.4" stroke="#7E2F8E" stroke-width="1.1" stroke-linejoin="miter"/>
<path d="M88.85 348.17L93.05 350.77L88.85 353.37Z" fill="#7E2F8E" fill-opacity="0.4" stroke="#7E2F8E" stroke-width="1.1" stroke-linejoin="miter"/>
<path d="M97.41 348.68L101.61 351.28L97.41 353.88Z" fill="#7E2F8E" fill-opacity="0.4" stroke="#7E2F8E" stroke-width="1.1" stroke-linejoin="miter"/>
<path d="M103.69 343.08L107.89 345.68L103.69 348.28Z" fill="#7E2F8E" fill-opacity="0.4" stroke="#7E2F8E" stroke-width="1.1" stroke-linejoin="miter"/>
</g></g>
<g fill="#111" stroke="#111" stroke-width="0.2"><text x="116.97" y="298.97" font-size="12.5" text-anchor="middle" >θ=0°</text>
<text x="165.85" y="314.54" font-size="11" text-anchor="middle" >30</text>
<text x="197.71" y="349.12" font-size="11" text-anchor="middle" >60</text>
<text x="209.87" y="395.47" font-size="11" text-anchor="middle" >90</text>
<text x="198.18" y="443.85" font-size="11" text-anchor="middle" >120</text>
<text x="158.42" y="479.04" font-size="11" text-anchor="middle" >150</text>
<text x="111.63" y="490.26" font-size="11" text-anchor="middle" >180</text>
<text x="65.65" y="477.57" font-size="11" text-anchor="middle" >210</text>
<text x="26.49" y="442.88" font-size="11" text-anchor="middle" >240</text>
<text x="13.16" y="393.97" font-size="11" text-anchor="middle" >270</text>
<text x="27.13" y="345.44" font-size="11" text-anchor="middle" >300</text>
<text x="63.47" y="310.46" font-size="11" text-anchor="middle" >330</text>
<text x="134.51" y="312.45" font-size="8.6" text-anchor="middle" class="rl" fill="#000" stroke="none" transform="rotate(8 134.51 309.55)">0</text>
<text x="127.86" y="337.96" font-size="8.6" text-anchor="middle" class="rl" fill="#000" stroke="none" transform="rotate(8 127.86 335.06)">-10</text>
<text x="120.43" y="365.92" font-size="8.6" text-anchor="middle" class="rl" fill="#000" stroke="none" transform="rotate(8 120.43 363.02)">-20</text>
<text x="112.12" y="394.17" font-size="8.6" text-anchor="middle" class="rl" fill="#000" stroke="none" transform="rotate(8 112.12 391.27)">-30</text></g>
<g><clipPath id="cp4"><circle cx="403" cy="389.3" r="87.8"/></clipPath>
<circle cx="403" cy="389.3" r="29.07" fill="none" stroke="#c0c0c0" stroke-width="1"/>
<circle cx="403" cy="389.3" r="58.13" fill="none" stroke="#c0c0c0" stroke-width="1"/>
<circle cx="403" cy="389.3" r="87.2" fill="none" stroke="#c0c0c0" stroke-width="1"/>
<line x1="403" y1="360.23" x2="403" y2="302.1" stroke="#c0c0c0" stroke-width="1"/>
<line x1="417.53" y1="364.13" x2="446.6" y2="313.78" stroke="#c0c0c0" stroke-width="1"/>
<line x1="428.17" y1="374.77" x2="478.52" y2="345.7" stroke="#c0c0c0" stroke-width="1"/>
<line x1="432.07" y1="389.3" x2="490.2" y2="389.3" stroke="#c0c0c0" stroke-width="1"/>
<line x1="428.17" y1="403.83" x2="478.52" y2="432.9" stroke="#c0c0c0" stroke-width="1"/>
<line x1="417.53" y1="414.47" x2="446.6" y2="464.82" stroke="#c0c0c0" stroke-width="1"/>
<line x1="403" y1="418.37" x2="403" y2="476.5" stroke="#c0c0c0" stroke-width="1"/>
<line x1="388.47" y1="414.47" x2="359.4" y2="464.82" stroke="#c0c0c0" stroke-width="1"/>
<line x1="377.83" y1="403.83" x2="327.48" y2="432.9" stroke="#c0c0c0" stroke-width="1"/>
<line x1="373.93" y1="389.3" x2="315.8" y2="389.3" stroke="#c0c0c0" stroke-width="1"/>
<line x1="377.83" y1="374.77" x2="327.48" y2="345.7" stroke="#c0c0c0" stroke-width="1"/>
<line x1="388.47" y1="364.13" x2="359.4" y2="313.78" stroke="#c0c0c0" stroke-width="1"/>
<g clip-path="url(#cp4)">
<path d="M403 303.3L417.53 306.87L430.46 313.84L442.25 321.32L451.66 331.31L458.69 342.57L461.98 355.25L461.35 368.06L459.63 379.32L460 389.3L454.8 398.43L441.53 403.32L418.59 398.3L427.36 409.74L427.43 418.41L424.5 426.54L419.96 435.91L411.39 436.87L403 423L398.17 416.68L390.28 424.26L381.6 426.37L378.7 418.26L378.33 410L360.13 414.05L346.81 409.75L336.43 401.04L330.4 389.3L328.45 376.15L329.05 362.38L332.77 348.75L339.95 336.4L349.33 325.34L361.1 316.73L373.83 309.14L388.01 304.31Z" fill="none" stroke="#0072BD" stroke-width="1.55" stroke-linejoin="round"/>
<circle cx="403" cy="303.3" r="2.1" fill="#0072BD" fill-opacity="0.18" stroke="#0072BD" stroke-width="1.1"/>
<circle cx="417.53" cy="306.87" r="2.1" fill="#0072BD" fill-opacity="0.18" stroke="#0072BD" stroke-width="1.1"/>
<circle cx="430.46" cy="313.84" r="2.1" fill="#0072BD" fill-opacity="0.18" stroke="#0072BD" stroke-width="1.1"/>
<circle cx="442.25" cy="321.32" r="2.1" fill="#0072BD" fill-opacity="0.18" stroke="#0072BD" stroke-width="1.1"/>
<circle cx="451.66" cy="331.31" r="2.1" fill="#0072BD" fill-opacity="0.18" stroke="#0072BD" stroke-width="1.1"/>
<circle cx="458.69" cy="342.57" r="2.1" fill="#0072BD" fill-opacity="0.18" stroke="#0072BD" stroke-width="1.1"/>
<circle cx="461.98" cy="355.25" r="2.1" fill="#0072BD" fill-opacity="0.18" stroke="#0072BD" stroke-width="1.1"/>
<circle cx="461.35" cy="368.06" r="2.1" fill="#0072BD" fill-opacity="0.18" stroke="#0072BD" stroke-width="1.1"/>
<circle cx="459.63" cy="379.32" r="2.1" fill="#0072BD" fill-opacity="0.18" stroke="#0072BD" stroke-width="1.1"/>
<circle cx="460" cy="389.3" r="2.1" fill="#0072BD" fill-opacity="0.18" stroke="#0072BD" stroke-width="1.1"/>
<circle cx="454.8" cy="398.43" r="2.1" fill="#0072BD" fill-opacity="0.18" stroke="#0072BD" stroke-width="1.1"/>
<circle cx="441.53" cy="403.32" r="2.1" fill="#0072BD" fill-opacity="0.18" stroke="#0072BD" stroke-width="1.1"/>
<circle cx="418.59" cy="398.3" r="2.1" fill="#0072BD" fill-opacity="0.18" stroke="#0072BD" stroke-width="1.1"/>
<circle cx="427.36" cy="409.74" r="2.1" fill="#0072BD" fill-opacity="0.18" stroke="#0072BD" stroke-width="1.1"/>
<circle cx="427.43" cy="418.41" r="2.1" fill="#0072BD" fill-opacity="0.18" stroke="#0072BD" stroke-width="1.1"/>
<circle cx="424.5" cy="426.54" r="2.1" fill="#0072BD" fill-opacity="0.18" stroke="#0072BD" stroke-width="1.1"/>
<circle cx="419.96" cy="435.91" r="2.1" fill="#0072BD" fill-opacity="0.18" stroke="#0072BD" stroke-width="1.1"/>
<circle cx="411.39" cy="436.87" r="2.1" fill="#0072BD" fill-opacity="0.18" stroke="#0072BD" stroke-width="1.1"/>
<circle cx="403" cy="423" r="2.1" fill="#0072BD" fill-opacity="0.18" stroke="#0072BD" stroke-width="1.1"/>
<circle cx="398.17" cy="416.68" r="2.1" fill="#0072BD" fill-opacity="0.18" stroke="#0072BD" stroke-width="1.1"/>
<circle cx="390.28" cy="424.26" r="2.1" fill="#0072BD" fill-opacity="0.18" stroke="#0072BD" stroke-width="1.1"/>
<circle cx="381.6" cy="426.37" r="2.1" fill="#0072BD" fill-opacity="0.18" stroke="#0072BD" stroke-width="1.1"/>
<circle cx="378.7" cy="418.26" r="2.1" fill="#0072BD" fill-opacity="0.18" stroke="#0072BD" stroke-width="1.1"/>
<circle cx="378.33" cy="410" r="2.1" fill="#0072BD" fill-opacity="0.18" stroke="#0072BD" stroke-width="1.1"/>
<circle cx="360.13" cy="414.05" r="2.1" fill="#0072BD" fill-opacity="0.18" stroke="#0072BD" stroke-width="1.1"/>
<circle cx="346.81" cy="409.75" r="2.1" fill="#0072BD" fill-opacity="0.18" stroke="#0072BD" stroke-width="1.1"/>
<circle cx="336.43" cy="401.04" r="2.1" fill="#0072BD" fill-opacity="0.18" stroke="#0072BD" stroke-width="1.1"/>
<circle cx="330.4" cy="389.3" r="2.1" fill="#0072BD" fill-opacity="0.18" stroke="#0072BD" stroke-width="1.1"/>
<circle cx="328.45" cy="376.15" r="2.1" fill="#0072BD" fill-opacity="0.18" stroke="#0072BD" stroke-width="1.1"/>
<circle cx="329.05" cy="362.38" r="2.1" fill="#0072BD" fill-opacity="0.18" stroke="#0072BD" stroke-width="1.1"/>
<circle cx="332.77" cy="348.75" r="2.1" fill="#0072BD" fill-opacity="0.18" stroke="#0072BD" stroke-width="1.1"/>
<circle cx="339.95" cy="336.4" r="2.1" fill="#0072BD" fill-opacity="0.18" stroke="#0072BD" stroke-width="1.1"/>
<circle cx="349.33" cy="325.34" r="2.1" fill="#0072BD" fill-opacity="0.18" stroke="#0072BD" stroke-width="1.1"/>
<circle cx="361.1" cy="316.73" r="2.1" fill="#0072BD" fill-opacity="0.18" stroke="#0072BD" stroke-width="1.1"/>
<circle cx="373.83" cy="309.14" r="2.1" fill="#0072BD" fill-opacity="0.18" stroke="#0072BD" stroke-width="1.1"/>
<circle cx="388.01" cy="304.31" r="2.1" fill="#0072BD" fill-opacity="0.18" stroke="#0072BD" stroke-width="1.1"/>
<path d="M403 303.1L418.06 303.92L432.35 308.67L444.1 318.11L453.33 329.32L458.92 342.38L461.37 355.6L461.35 368.06L459.33 379.37L453.8 389.3L450.27 397.64L443.41 404.01L436.34 408.55L430.5 412.38L426.78 417.64L424.05 425.76L419.69 435.16L411.89 439.72L403 442.1L394.02 440.21L385.39 437.69L376.65 434.94L368.16 430.82L360.41 425.04L353.64 417.8L348.12 409.27L342.04 400.05L337.3 389.3L334.75 377.27L334.12 364.23L336.32 350.8L341.56 337.75L349.71 325.79L360.55 315.77L373.65 308.67L387.93 303.82Z" fill="none" stroke="#D95319" stroke-width="1.55" stroke-linejoin="round"/>
<polygon points="403,300 403.73,302.09 405.95,302.14 404.19,303.49 404.82,305.61 403,304.35 401.18,305.61 401.81,303.49 400.05,302.14 402.27,302.09" fill="#D95319" stroke="#D95319" stroke-width="0.5"/>
<polygon points="418.06,300.82 418.79,302.91 421,302.96 419.24,304.3 419.88,306.43 418.06,305.17 416.23,306.43 416.87,304.3 415.11,302.96 417.32,302.91" fill="#D95319" stroke="#D95319" stroke-width="0.5"/>
<polygon points="432.35,305.57 433.08,307.66 435.29,307.72 433.53,309.06 434.17,311.18 432.35,309.92 430.52,311.18 431.16,309.06 429.4,307.72 431.61,307.66" fill="#D95319" stroke="#D95319" stroke-width="0.5"/>
<polygon points="444.1,315.01 444.83,317.1 447.05,317.15 445.29,318.5 445.92,320.62 444.1,319.36 442.28,320.62 442.91,318.5 441.15,317.15 443.37,317.1" fill="#D95319" stroke="#D95319" stroke-width="0.5"/>
<polygon points="453.33,326.22 454.07,328.31 456.28,328.36 454.52,329.7 455.15,331.83 453.33,330.57 451.51,331.83 452.14,329.7 450.38,328.36 452.6,328.31" fill="#D95319" stroke="#D95319" stroke-width="0.5"/>
<polygon points="458.92,339.28 459.66,341.37 461.87,341.42 460.11,342.76 460.74,344.88 458.92,343.63 457.1,344.88 457.73,342.76 455.97,341.42 458.19,341.37" fill="#D95319" stroke="#D95319" stroke-width="0.5"/>
<polygon points="461.37,352.5 462.1,354.59 464.32,354.64 462.56,355.99 463.19,358.11 461.37,356.85 459.55,358.11 460.18,355.99 458.42,354.64 460.64,354.59" fill="#D95319" stroke="#D95319" stroke-width="0.5"/>
<polygon points="461.35,364.96 462.09,367.05 464.3,367.1 462.54,368.45 463.18,370.57 461.35,369.31 459.53,370.57 460.17,368.45 458.41,367.1 460.62,367.05" fill="#D95319" stroke="#D95319" stroke-width="0.5"/>
<polygon points="459.33,376.27 460.07,378.36 462.28,378.41 460.52,379.75 461.15,381.88 459.33,380.62 457.51,381.88 458.14,379.75 456.38,378.41 458.6,378.36" fill="#D95319" stroke="#D95319" stroke-width="0.5"/>
<polygon points="453.8,386.2 454.53,388.29 456.75,388.34 454.99,389.69 455.62,391.81 453.8,390.55 451.98,391.81 452.61,389.69 450.85,388.34 453.07,388.29" fill="#D95319" stroke="#D95319" stroke-width="0.5"/>
<polygon points="450.27,394.54 451.01,396.62 453.22,396.68 451.46,398.02 452.09,400.14 450.27,398.89 448.45,400.14 449.08,398.02 447.32,396.68 449.54,396.62" fill="#D95319" stroke="#D95319" stroke-width="0.5"/>
<polygon points="443.41,400.91 444.14,403 446.36,403.05 444.6,404.39 445.23,406.51 443.41,405.26 441.58,406.51 442.22,404.39 440.46,403.05 442.67,403" fill="#D95319" stroke="#D95319" stroke-width="0.5"/>
<polygon points="436.34,405.45 437.08,407.54 439.29,407.59 437.53,408.94 438.16,411.06 436.34,409.8 434.52,411.06 435.15,408.94 433.39,407.59 435.61,407.54" fill="#D95319" stroke="#D95319" stroke-width="0.5"/>
<polygon points="430.5,409.28 431.24,411.36 433.45,411.42 431.69,412.76 432.32,414.88 430.5,413.63 428.68,414.88 429.31,412.76 427.55,411.42 429.77,411.36" fill="#D95319" stroke="#D95319" stroke-width="0.5"/>
<polygon points="426.78,414.54 427.52,416.63 429.73,416.69 427.97,418.03 428.61,420.15 426.78,418.89 424.96,420.15 425.59,418.03 423.83,416.69 426.05,416.63" fill="#D95319" stroke="#D95319" stroke-width="0.5"/>
<polygon points="424.05,422.66 424.78,424.75 427,424.8 425.24,426.15 425.87,428.27 424.05,427.01 422.23,428.27 422.86,426.15 421.1,424.8 423.32,424.75" fill="#D95319" stroke="#D95319" stroke-width="0.5"/>
<polygon points="419.69,432.06 420.43,434.15 422.64,434.2 420.88,435.54 421.51,437.66 419.69,436.41 417.87,437.66 418.5,435.54 416.74,434.2 418.96,434.15" fill="#D95319" stroke="#D95319" stroke-width="0.5"/>
<polygon points="411.89,436.62 412.63,438.71 414.84,438.76 413.08,440.11 413.71,442.23 411.89,440.97 410.07,442.23 410.7,440.11 408.94,438.76 411.16,438.71" fill="#D95319" stroke="#D95319" stroke-width="0.5"/>
<polygon points="403,439 403.73,441.09 405.95,441.14 404.19,442.49 404.82,444.61 403,443.35 401.18,444.61 401.81,442.49 400.05,441.14 402.27,441.09" fill="#D95319" stroke="#D95319" stroke-width="0.5"/>
<polygon points="394.02,437.11 394.76,439.2 396.97,439.26 395.21,440.6 395.84,442.72 394.02,441.46 392.2,442.72 392.83,440.6 391.07,439.26 393.29,439.2" fill="#D95319" stroke="#D95319" stroke-width="0.5"/>
<polygon points="385.39,434.59 386.12,436.68 388.33,436.74 386.57,438.08 387.21,440.2 385.39,438.94 383.56,440.2 384.2,438.08 382.44,436.74 384.65,436.68" fill="#D95319" stroke="#D95319" stroke-width="0.5"/>
<polygon points="376.65,431.84 377.38,433.93 379.6,433.98 377.84,435.33 378.47,437.45 376.65,436.19 374.83,437.45 375.46,435.33 373.7,433.98 375.92,433.93" fill="#D95319" stroke="#D95319" stroke-width="0.5"/>
<polygon points="368.16,427.72 368.9,429.81 371.11,429.86 369.35,431.21 369.98,433.33 368.16,432.07 366.34,433.33 366.97,431.21 365.21,429.86 367.43,429.81" fill="#D95319" stroke="#D95319" stroke-width="0.5"/>
<polygon points="360.41,421.94 361.14,424.03 363.36,424.08 361.6,425.43 362.23,427.55 360.41,426.29 358.59,427.55 359.22,425.43 357.46,424.08 359.67,424.03" fill="#D95319" stroke="#D95319" stroke-width="0.5"/>
<polygon points="353.64,414.7 354.37,416.79 356.58,416.84 354.83,418.19 355.46,420.31 353.64,419.05 351.81,420.31 352.45,418.19 350.69,416.84 352.9,416.79" fill="#D95319" stroke="#D95319" stroke-width="0.5"/>
<polygon points="348.12,406.17 348.86,408.26 351.07,408.32 349.31,409.66 349.94,411.78 348.12,410.52 346.3,411.78 346.93,409.66 345.17,408.32 347.39,408.26" fill="#D95319" stroke="#D95319" stroke-width="0.5"/>
<polygon points="342.04,396.95 342.78,399.04 344.99,399.09 343.23,400.44 343.86,402.56 342.04,401.3 340.22,402.56 340.85,400.44 339.09,399.09 341.31,399.04" fill="#D95319" stroke="#D95319" stroke-width="0.5"/>
<polygon points="337.3,386.2 338.03,388.29 340.25,388.34 338.49,389.69 339.12,391.81 337.3,390.55 335.48,391.81 336.11,389.69 334.35,388.34 336.57,388.29" fill="#D95319" stroke="#D95319" stroke-width="0.5"/>
<polygon points="334.75,374.17 335.49,376.25 337.7,376.31 335.94,377.65 336.57,379.77 334.75,378.52 332.93,379.77 333.56,377.65 331.8,376.31 334.02,376.25" fill="#D95319" stroke="#D95319" stroke-width="0.5"/>
<polygon points="334.12,361.13 334.86,363.22 337.07,363.27 335.31,364.62 335.94,366.74 334.12,365.48 332.3,366.74 332.93,364.62 331.17,363.27 333.39,363.22" fill="#D95319" stroke="#D95319" stroke-width="0.5"/>
<polygon points="336.32,347.7 337.05,349.79 339.26,349.84 337.5,351.19 338.14,353.31 336.32,352.05 334.49,353.31 335.13,351.19 333.37,349.84 335.58,349.79" fill="#D95319" stroke="#D95319" stroke-width="0.5"/>
<polygon points="341.56,334.65 342.3,336.74 344.51,336.79 342.75,338.13 343.39,340.26 341.56,339 339.74,340.26 340.37,338.13 338.61,336.79 340.83,336.74" fill="#D95319" stroke="#D95319" stroke-width="0.5"/>
<polygon points="349.71,322.69 350.45,324.78 352.66,324.84 350.9,326.18 351.54,328.3 349.71,327.04 347.89,328.3 348.52,326.18 346.76,324.84 348.98,324.78" fill="#D95319" stroke="#D95319" stroke-width="0.5"/>
<polygon points="360.55,312.67 361.28,314.76 363.5,314.82 361.74,316.16 362.37,318.28 360.55,317.02 358.73,318.28 359.36,316.16 357.6,314.82 359.82,314.76" fill="#D95319" stroke="#D95319" stroke-width="0.5"/>
<polygon points="373.65,305.57 374.39,307.66 376.6,307.72 374.84,309.06 375.48,311.18 373.65,309.92 371.83,311.18 372.47,309.06 370.71,307.72 372.92,307.66" fill="#D95319" stroke="#D95319" stroke-width="0.5"/>
<polygon points="387.93,300.72 388.66,302.81 390.88,302.86 389.12,304.2 389.75,306.33 387.93,305.07 386.11,306.33 386.74,304.2 384.98,302.86 387.19,302.81" fill="#D95319" stroke="#D95319" stroke-width="0.5"/>
<path d="M403 351.8L412.03 338.09L421.2 339.31L424.7 351.71L417.01 372.6L403 389.3L417.98 380.65L428.09 380.17L431.26 384.32L432.7 389.3L433.92 394.75L434.67 400.83L429.67 404.7L420.62 404.08L424.34 414.73L423.85 425.41L416.44 426.23L409.51 426.23L403 426.8L396.16 428.1L392.57 417.96L403 389.3L403 389.3L385.61 403.89L368.1 409.45L357.14 405.99L349.92 398.66L347.6 389.3L348.44 379.68L352.82 371.04L361.43 365.3L369.83 361.47L382.69 365.09L391.95 370.16L391.37 357.35L396.52 352.57Z" fill="none" stroke="#EDB120" stroke-width="1.55" stroke-linejoin="round"/>
<rect x="401.05" y="349.85" width="3.9" height="3.9" fill="#EDB120" fill-opacity="0.3" stroke="#EDB120" stroke-width="1.1"/>
<rect x="410.08" y="336.14" width="3.9" height="3.9" fill="#EDB120" fill-opacity="0.3" stroke="#EDB120" stroke-width="1.1"/>
<rect x="419.25" y="337.36" width="3.9" height="3.9" fill="#EDB120" fill-opacity="0.3" stroke="#EDB120" stroke-width="1.1"/>
<rect x="422.75" y="349.76" width="3.9" height="3.9" fill="#EDB120" fill-opacity="0.3" stroke="#EDB120" stroke-width="1.1"/>
<rect x="415.06" y="370.65" width="3.9" height="3.9" fill="#EDB120" fill-opacity="0.3" stroke="#EDB120" stroke-width="1.1"/>
<rect x="401.05" y="387.35" width="3.9" height="3.9" fill="#EDB120" fill-opacity="0.3" stroke="#EDB120" stroke-width="1.1"/>
<rect x="416.03" y="378.7" width="3.9" height="3.9" fill="#EDB120" fill-opacity="0.3" stroke="#EDB120" stroke-width="1.1"/>
<rect x="426.14" y="378.22" width="3.9" height="3.9" fill="#EDB120" fill-opacity="0.3" stroke="#EDB120" stroke-width="1.1"/>
<rect x="429.31" y="382.37" width="3.9" height="3.9" fill="#EDB120" fill-opacity="0.3" stroke="#EDB120" stroke-width="1.1"/>
<rect x="430.75" y="387.35" width="3.9" height="3.9" fill="#EDB120" fill-opacity="0.3" stroke="#EDB120" stroke-width="1.1"/>
<rect x="431.97" y="392.8" width="3.9" height="3.9" fill="#EDB120" fill-opacity="0.3" stroke="#EDB120" stroke-width="1.1"/>
<rect x="432.72" y="398.88" width="3.9" height="3.9" fill="#EDB120" fill-opacity="0.3" stroke="#EDB120" stroke-width="1.1"/>
<rect x="427.72" y="402.75" width="3.9" height="3.9" fill="#EDB120" fill-opacity="0.3" stroke="#EDB120" stroke-width="1.1"/>
<rect x="418.67" y="402.13" width="3.9" height="3.9" fill="#EDB120" fill-opacity="0.3" stroke="#EDB120" stroke-width="1.1"/>
<rect x="422.39" y="412.78" width="3.9" height="3.9" fill="#EDB120" fill-opacity="0.3" stroke="#EDB120" stroke-width="1.1"/>
<rect x="421.9" y="423.46" width="3.9" height="3.9" fill="#EDB120" fill-opacity="0.3" stroke="#EDB120" stroke-width="1.1"/>
<rect x="414.49" y="424.28" width="3.9" height="3.9" fill="#EDB120" fill-opacity="0.3" stroke="#EDB120" stroke-width="1.1"/>
<rect x="407.56" y="424.28" width="3.9" height="3.9" fill="#EDB120" fill-opacity="0.3" stroke="#EDB120" stroke-width="1.1"/>
<rect x="401.05" y="424.85" width="3.9" height="3.9" fill="#EDB120" fill-opacity="0.3" stroke="#EDB120" stroke-width="1.1"/>
<rect x="394.21" y="426.15" width="3.9" height="3.9" fill="#EDB120" fill-opacity="0.3" stroke="#EDB120" stroke-width="1.1"/>
<rect x="390.62" y="416.01" width="3.9" height="3.9" fill="#EDB120" fill-opacity="0.3" stroke="#EDB120" stroke-width="1.1"/>
<rect x="401.05" y="387.35" width="3.9" height="3.9" fill="#EDB120" fill-opacity="0.3" stroke="#EDB120" stroke-width="1.1"/>
<rect x="401.05" y="387.35" width="3.9" height="3.9" fill="#EDB120" fill-opacity="0.3" stroke="#EDB120" stroke-width="1.1"/>
<rect x="383.66" y="401.94" width="3.9" height="3.9" fill="#EDB120" fill-opacity="0.3" stroke="#EDB120" stroke-width="1.1"/>
<rect x="366.15" y="407.5" width="3.9" height="3.9" fill="#EDB120" fill-opacity="0.3" stroke="#EDB120" stroke-width="1.1"/>
<rect x="355.19" y="404.04" width="3.9" height="3.9" fill="#EDB120" fill-opacity="0.3" stroke="#EDB120" stroke-width="1.1"/>
<rect x="347.97" y="396.71" width="3.9" height="3.9" fill="#EDB120" fill-opacity="0.3" stroke="#EDB120" stroke-width="1.1"/>
<rect x="345.65" y="387.35" width="3.9" height="3.9" fill="#EDB120" fill-opacity="0.3" stroke="#EDB120" stroke-width="1.1"/>
<rect x="346.49" y="377.73" width="3.9" height="3.9" fill="#EDB120" fill-opacity="0.3" stroke="#EDB120" stroke-width="1.1"/>
<rect x="350.87" y="369.09" width="3.9" height="3.9" fill="#EDB120" fill-opacity="0.3" stroke="#EDB120" stroke-width="1.1"/>
<rect x="359.48" y="363.35" width="3.9" height="3.9" fill="#EDB120" fill-opacity="0.3" stroke="#EDB120" stroke-width="1.1"/>
<rect x="367.88" y="359.52" width="3.9" height="3.9" fill="#EDB120" fill-opacity="0.3" stroke="#EDB120" stroke-width="1.1"/>
<rect x="380.74" y="363.14" width="3.9" height="3.9" fill="#EDB120" fill-opacity="0.3" stroke="#EDB120" stroke-width="1.1"/>
<rect x="390" y="368.21" width="3.9" height="3.9" fill="#EDB120" fill-opacity="0.3" stroke="#EDB120" stroke-width="1.1"/>
<rect x="389.42" y="355.4" width="3.9" height="3.9" fill="#EDB120" fill-opacity="0.3" stroke="#EDB120" stroke-width="1.1"/>
<rect x="394.57" y="350.62" width="3.9" height="3.9" fill="#EDB120" fill-opacity="0.3" stroke="#EDB120" stroke-width="1.1"/>
<path d="M403 335.3L412.59 334.94L421.64 338.09L429.3 343.75L435.33 350.77L439.69 358.51L443.01 366.2L445.85 373.7L448.1 381.35L449.9 389.3L449.78 397.55L446.98 405.31L439.98 410.65L429.43 411.48L421.71 411.59L422 422.21L418.94 433.09L411.53 437.65L403 433.8L397.96 417.86L403 389.3L389.55 412.6L378.7 418.26L373.66 413.92L372.78 406.75L370.39 401.17L365.28 395.95L359.4 389.3L357.3 381.24L357.89 372.88L361 365.05L366.15 358.38L372.08 352.45L378.7 347.21L385.97 342.5L394.2 339.37Z" fill="none" stroke="#7E2F8E" stroke-width="1.55" stroke-linejoin="round"/>
<path d="M401.5 332.7L405.7 335.3L401.5 337.9Z" fill="#7E2F8E" fill-opacity="0.4" stroke="#7E2F8E" stroke-width="1.1" stroke-linejoin="miter"/>
<path d="M411.09 332.34L415.29 334.94L411.09 337.54Z" fill="#7E2F8E" fill-opacity="0.4" stroke="#7E2F8E" stroke-width="1.1" stroke-linejoin="miter"/>
<path d="M420.14 335.49L424.34 338.09L420.14 340.69Z" fill="#7E2F8E" fill-opacity="0.4" stroke="#7E2F8E" stroke-width="1.1" stroke-linejoin="miter"/>
<path d="M427.8 341.15L432 343.75L427.8 346.35Z" fill="#7E2F8E" fill-opacity="0.4" stroke="#7E2F8E" stroke-width="1.1" stroke-linejoin="miter"/>
<path d="M433.83 348.17L438.03 350.77L433.83 353.37Z" fill="#7E2F8E" fill-opacity="0.4" stroke="#7E2F8E" stroke-width="1.1" stroke-linejoin="miter"/>
<path d="M438.19 355.91L442.39 358.51L438.19 361.11Z" fill="#7E2F8E" fill-opacity="0.4" stroke="#7E2F8E" stroke-width="1.1" stroke-linejoin="miter"/>
<path d="M441.51 363.6L445.71 366.2L441.51 368.8Z" fill="#7E2F8E" fill-opacity="0.4" stroke="#7E2F8E" stroke-width="1.1" stroke-linejoin="miter"/>
<path d="M444.35 371.1L448.55 373.7L444.35 376.3Z" fill="#7E2F8E" fill-opacity="0.4" stroke="#7E2F8E" stroke-width="1.1" stroke-linejoin="miter"/>
<path d="M446.6 378.75L450.8 381.35L446.6 383.95Z" fill="#7E2F8E" fill-opacity="0.4" stroke="#7E2F8E" stroke-width="1.1" stroke-linejoin="miter"/>
<path d="M448.4 386.7L452.6 389.3L448.4 391.9Z" fill="#7E2F8E" fill-opacity="0.4" stroke="#7E2F8E" stroke-width="1.1" stroke-linejoin="miter"/>
<path d="M448.28 394.95L452.48 397.55L448.28 400.15Z" fill="#7E2F8E" fill-opacity="0.4" stroke="#7E2F8E" stroke-width="1.1" stroke-linejoin="miter"/>
<path d="M445.48 402.71L449.68 405.31L445.48 407.91Z" fill="#7E2F8E" fill-opacity="0.4" stroke="#7E2F8E" stroke-width="1.1" stroke-linejoin="miter"/>
<path d="M438.48 408.05L442.68 410.65L438.48 413.25Z" fill="#7E2F8E" fill-opacity="0.4" stroke="#7E2F8E" stroke-width="1.1" stroke-linejoin="miter"/>
<path d="M427.93 408.88L432.13 411.48L427.93 414.08Z" fill="#7E2F8E" fill-opacity="0.4" stroke="#7E2F8E" stroke-width="1.1" stroke-linejoin="miter"/>
<path d="M420.21 408.99L424.41 411.59L420.21 414.19Z" fill="#7E2F8E" fill-opacity="0.4" stroke="#7E2F8E" stroke-width="1.1" stroke-linejoin="miter"/>
<path d="M420.5 419.61L424.7 422.21L420.5 424.81Z" fill="#7E2F8E" fill-opacity="0.4" stroke="#7E2F8E" stroke-width="1.1" stroke-linejoin="miter"/>
<path d="M417.44 430.49L421.64 433.09L417.44 435.69Z" fill="#7E2F8E" fill-opacity="0.4" stroke="#7E2F8E" stroke-width="1.1" stroke-linejoin="miter"/>
<path d="M410.03 435.05L414.23 437.65L410.03 440.25Z" fill="#7E2F8E" fill-opacity="0.4" stroke="#7E2F8E" stroke-width="1.1" stroke-linejoin="miter"/>
<path d="M401.5 431.2L405.7 433.8L401.5 436.4Z" fill="#7E2F8E" fill-opacity="0.4" stroke="#7E2F8E" stroke-width="1.1" stroke-linejoin="miter"/>
<path d="M396.46 415.26L400.66 417.86L396.46 420.46Z" fill="#7E2F8E" fill-opacity="0.4" stroke="#7E2F8E" stroke-width="1.1" stroke-linejoin="miter"/>
<path d="M401.5 386.7L405.7 389.3L401.5 391.9Z" fill="#7E2F8E" fill-opacity="0.4" stroke="#7E2F8E" stroke-width="1.1" stroke-linejoin="miter"/>
<path d="M388.05 410L392.25 412.6L388.05 415.2Z" fill="#7E2F8E" fill-opacity="0.4" stroke="#7E2F8E" stroke-width="1.1" stroke-linejoin="miter"/>
<path d="M377.2 415.66L381.4 418.26L377.2 420.86Z" fill="#7E2F8E" fill-opacity="0.4" stroke="#7E2F8E" stroke-width="1.1" stroke-linejoin="miter"/>
<path d="M372.16 411.32L376.36 413.92L372.16 416.52Z" fill="#7E2F8E" fill-opacity="0.4" stroke="#7E2F8E" stroke-width="1.1" stroke-linejoin="miter"/>
<path d="M371.28 404.15L375.48 406.75L371.28 409.35Z" fill="#7E2F8E" fill-opacity="0.4" stroke="#7E2F8E" stroke-width="1.1" stroke-linejoin="miter"/>
<path d="M368.89 398.57L373.09 401.17L368.89 403.77Z" fill="#7E2F8E" fill-opacity="0.4" stroke="#7E2F8E" stroke-width="1.1" stroke-linejoin="miter"/>
<path d="M363.78 393.35L367.98 395.95L363.78 398.55Z" fill="#7E2F8E" fill-opacity="0.4" stroke="#7E2F8E" stroke-width="1.1" stroke-linejoin="miter"/>
<path d="M357.9 386.7L362.1 389.3L357.9 391.9Z" fill="#7E2F8E" fill-opacity="0.4" stroke="#7E2F8E" stroke-width="1.1" stroke-linejoin="miter"/>
<path d="M355.8 378.64L360 381.24L355.8 383.84Z" fill="#7E2F8E" fill-opacity="0.4" stroke="#7E2F8E" stroke-width="1.1" stroke-linejoin="miter"/>
<path d="M356.39 370.28L360.59 372.88L356.39 375.48Z" fill="#7E2F8E" fill-opacity="0.4" stroke="#7E2F8E" stroke-width="1.1" stroke-linejoin="miter"/>
<path d="M359.5 362.45L363.7 365.05L359.5 367.65Z" fill="#7E2F8E" fill-opacity="0.4" stroke="#7E2F8E" stroke-width="1.1" stroke-linejoin="miter"/>
<path d="M364.65 355.78L368.85 358.38L364.65 360.98Z" fill="#7E2F8E" fill-opacity="0.4" stroke="#7E2F8E" stroke-width="1.1" stroke-linejoin="miter"/>
<path d="M370.58 349.85L374.78 352.45L370.58 355.05Z" fill="#7E2F8E" fill-opacity="0.4" stroke="#7E2F8E" stroke-width="1.1" stroke-linejoin="miter"/>
<path d="M377.2 344.61L381.4 347.21L377.2 349.81Z" fill="#7E2F8E" fill-opacity="0.4" stroke="#7E2F8E" stroke-width="1.1" stroke-linejoin="miter"/>
<path d="M384.47 339.9L388.67 342.5L384.47 345.1Z" fill="#7E2F8E" fill-opacity="0.4" stroke="#7E2F8E" stroke-width="1.1" stroke-linejoin="miter"/>
<path d="M392.7 336.77L396.9 339.37L392.7 341.97Z" fill="#7E2F8E" fill-opacity="0.4" stroke="#7E2F8E" stroke-width="1.1" stroke-linejoin="miter"/>
</g></g>
<g fill="#111" stroke="#111" stroke-width="0.2"><text x="404.47" y="297.46" font-size="12.5" text-anchor="middle" >θ=0°</text>
<text x="454.27" y="312.05" font-size="11" text-anchor="middle" >30</text>
<text x="486.6" y="347.01" font-size="11" text-anchor="middle" >60</text>
<text x="497.89" y="394.37" font-size="11" text-anchor="middle" >90</text>
<text x="487.37" y="442.26" font-size="11" text-anchor="middle" >120</text>
<text x="452.23" y="477.24" font-size="11" text-anchor="middle" >150</text>
<text x="402.93" y="488.58" font-size="11" text-anchor="middle" >180</text>
<text x="355.23" y="475.77" font-size="11" text-anchor="middle" >210</text>
<text x="319.79" y="440.79" font-size="11" text-anchor="middle" >240</text>
<text x="304.63" y="394.37" font-size="11" text-anchor="middle" >270</text>
<text x="315.73" y="346.83" font-size="11" text-anchor="middle" >300</text>
<text x="353.05" y="310.77" font-size="11" text-anchor="middle" >330</text>
<text x="425.36" y="311.56" font-size="8.6" text-anchor="middle" class="rl" fill="#000" stroke="none" transform="rotate(8 425.36 308.66)">0</text>
<text x="417.89" y="337.14" font-size="8.6" text-anchor="middle" class="rl" fill="#000" stroke="none" transform="rotate(8 417.89 334.24)">-10</text>
<text x="410.45" y="365.16" font-size="8.6" text-anchor="middle" class="rl" fill="#000" stroke="none" transform="rotate(8 410.45 362.26)">-20</text>
<text x="402.12" y="393.47" font-size="8.6" text-anchor="middle" class="rl" fill="#000" stroke="none" transform="rotate(8 402.12 390.57)">-30</text></g>
<text x="113.7" y="228.6" font-size="13" text-anchor="middle" fill="#111" stroke="#111" stroke-width="0.2">XZ-plane</text>
<text x="401.5" y="228.6" font-size="13" text-anchor="middle" fill="#111" stroke="#111" stroke-width="0.2">YZ-plane</text>
<text x="111.5" y="512.5" font-size="13" text-anchor="middle" fill="#111" stroke="#111" stroke-width="0.2">XZ-plane</text>
<text x="406.5" y="510.7" font-size="13" text-anchor="middle" fill="#111" stroke="#111" stroke-width="0.2">YZ-plane</text>
<line x1="233" y1="183.4" x2="245" y2="183.4" stroke="#0072BD" stroke-width="1.5"/>
<circle cx="239" cy="183.4" r="2.1" fill="none" stroke="#0072BD" stroke-width="1"/>
<text x="246" y="185.8" font-size="7.5" fill="#111" stroke="#111" stroke-width="0.12">Sim. LHCP flat</text>
<line x1="233" y1="194.8" x2="245" y2="194.8" stroke="#D95319" stroke-width="1.5"/>
<polygon points="239,191.3 239.82,193.67 242.33,193.72 240.33,195.23 241.06,197.63 239,196.2 236.94,197.63 237.67,195.23 235.67,193.72 238.18,193.67" fill="#D95319" stroke="#D95319" stroke-width="0.4"/>
<text x="246" y="197.2" font-size="7.5" fill="#111" stroke="#111" stroke-width="0.12">Meas. LHCP flat</text>
<line x1="233" y1="206.1" x2="245" y2="206.1" stroke="#EDB120" stroke-width="1.5"/>
<rect x="236.95" y="204.05" width="4.1" height="4.1" fill="none" stroke="#EDB120" stroke-width="1"/>
<text x="246" y="208.5" font-size="7.5" fill="#111" stroke="#111" stroke-width="0.12">Sim. RHCP flat</text>
<line x1="233" y1="217.5" x2="245" y2="217.5" stroke="#7E2F8E" stroke-width="1.5"/>
<path d="M237 214.6L242 217.5L237 220.4Z" fill="none" stroke="#7E2F8E" stroke-width="1"/>
<text x="246" y="219.9" font-size="7.5" fill="#111" stroke="#111" stroke-width="0.12">Meas. RHCP flat</text>
<line x1="226" y1="450.4" x2="238" y2="450.4" stroke="#0072BD" stroke-width="1.5"/>
<circle cx="232" cy="450.4" r="2.1" fill="none" stroke="#0072BD" stroke-width="1"/>
<text x="239" y="452.8" font-size="7.35" fill="#111" stroke="#111" stroke-width="0.12">Meas. LHCP x-bent</text>
<line x1="226" y1="463.2" x2="238" y2="463.2" stroke="#D95319" stroke-width="1.5"/>
<polygon points="232,459.7 232.82,462.07 235.33,462.12 233.33,463.63 234.06,466.03 232,464.6 229.94,466.03 230.67,463.63 228.67,462.12 231.18,462.07" fill="#D95319" stroke="#D95319" stroke-width="0.4"/>
<text x="239" y="465.6" font-size="7.35" fill="#111" stroke="#111" stroke-width="0.12">Meas. LHCP y-bent</text>
<line x1="226" y1="475.8" x2="238" y2="475.8" stroke="#EDB120" stroke-width="1.5"/>
<rect x="229.95" y="473.75" width="4.1" height="4.1" fill="none" stroke="#EDB120" stroke-width="1"/>
<text x="239" y="478.2" font-size="7.35" fill="#111" stroke="#111" stroke-width="0.12">Meas. RHCP x-bent</text>
<line x1="226" y1="488.4" x2="238" y2="488.4" stroke="#7E2F8E" stroke-width="1.5"/>
<path d="M230 485.5L235 488.4L230 491.3Z" fill="none" stroke="#7E2F8E" stroke-width="1"/>
<text x="239" y="490.8" font-size="7.35" fill="#111" stroke="#111" stroke-width="0.12">Meas. RHCP y-bent</text>
<text x="254.5" y="260" font-size="16.5" text-anchor="middle" fill="#111">(<tspan font-weight="bold">a</tspan>)</text>
<text x="254" y="544" font-size="16.5" text-anchor="middle" fill="#111">(<tspan font-weight="bold">b</tspan>)</text>
</svg>
</body></html>
